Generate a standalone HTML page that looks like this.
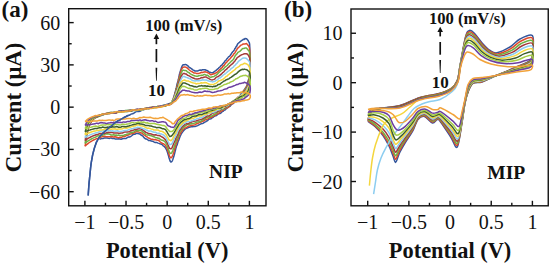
<!DOCTYPE html><html><head><meta charset="utf-8"><style>
html,body{margin:0;padding:0;background:#fff;width:550px;height:263px;overflow:hidden}
svg{display:block}
text{font-family:"Liberation Serif",serif;fill:#111}
.tk{font-size:20px}
.ti{font-size:22.4px;font-weight:bold}
.ti2{font-size:22.8px;font-weight:bold}
.tag{font-size:23px;font-weight:bold}
.lb{font-size:16.6px;font-weight:bold}
.lb2{font-size:19.5px;font-weight:bold}
</style></head><body>
<svg width="550" height="263" viewBox="0 0 550 263">
<rect width="550" height="263" fill="#fff"/>
<rect x="68.7" y="8.7" width="197.30" height="197.10" fill="none" stroke="#111" stroke-width="1.4"/>
<line x1="68.7" y1="191.69" x2="73.70" y2="191.69" stroke="#111" stroke-width="1.4"/>
<text x="60.20" y="198.69" text-anchor="end" class="tk">−60</text>
<line x1="68.7" y1="149.42" x2="73.70" y2="149.42" stroke="#111" stroke-width="1.4"/>
<text x="60.20" y="156.42" text-anchor="end" class="tk">−30</text>
<line x1="68.7" y1="107.15" x2="73.70" y2="107.15" stroke="#111" stroke-width="1.4"/>
<text x="60.20" y="114.15" text-anchor="end" class="tk">0</text>
<line x1="68.7" y1="64.88" x2="73.70" y2="64.88" stroke="#111" stroke-width="1.4"/>
<text x="60.20" y="71.88" text-anchor="end" class="tk">30</text>
<line x1="68.7" y1="22.61" x2="73.70" y2="22.61" stroke="#111" stroke-width="1.4"/>
<text x="60.20" y="29.61" text-anchor="end" class="tk">60</text>
<line x1="68.7" y1="170.56" x2="71.70" y2="170.56" stroke="#111" stroke-width="1.4"/>
<line x1="68.7" y1="128.28" x2="71.70" y2="128.28" stroke="#111" stroke-width="1.4"/>
<line x1="68.7" y1="86.02" x2="71.70" y2="86.02" stroke="#111" stroke-width="1.4"/>
<line x1="68.7" y1="43.75" x2="71.70" y2="43.75" stroke="#111" stroke-width="1.4"/>
<line x1="84.90" y1="205.8" x2="84.90" y2="200.80" stroke="#111" stroke-width="1.4"/>
<text x="84.90" y="229.3" text-anchor="middle" class="tk">−1</text>
<line x1="126.03" y1="205.8" x2="126.03" y2="200.80" stroke="#111" stroke-width="1.4"/>
<text x="126.03" y="229.3" text-anchor="middle" class="tk">−0.5</text>
<line x1="167.15" y1="205.8" x2="167.15" y2="200.80" stroke="#111" stroke-width="1.4"/>
<text x="167.15" y="229.3" text-anchor="middle" class="tk">0</text>
<line x1="208.28" y1="205.8" x2="208.28" y2="200.80" stroke="#111" stroke-width="1.4"/>
<text x="208.28" y="229.3" text-anchor="middle" class="tk">0.5</text>
<line x1="249.40" y1="205.8" x2="249.40" y2="200.80" stroke="#111" stroke-width="1.4"/>
<text x="249.40" y="229.3" text-anchor="middle" class="tk">1</text>
<line x1="105.46" y1="205.8" x2="105.46" y2="202.80" stroke="#111" stroke-width="1.4"/>
<line x1="146.59" y1="205.8" x2="146.59" y2="202.80" stroke="#111" stroke-width="1.4"/>
<line x1="187.71" y1="205.8" x2="187.71" y2="202.80" stroke="#111" stroke-width="1.4"/>
<line x1="228.84" y1="205.8" x2="228.84" y2="202.80" stroke="#111" stroke-width="1.4"/>
<text transform="translate(167.15,257.6) scale(1,1.07)" text-anchor="middle" class="ti">Potential (V)</text>
<text transform="translate(20.50,107.45) rotate(-90)" text-anchor="middle" class="ti2">Current (μA)</text>
<text x="1.5" y="17.3" class="tag">(a)</text>
<rect x="351.0" y="9.0" width="197.25" height="196.80" fill="none" stroke="#111" stroke-width="1.4"/>
<line x1="351.0" y1="181.51" x2="356.00" y2="181.51" stroke="#111" stroke-width="1.4"/>
<text x="342.50" y="188.51" text-anchor="end" class="tk">−20</text>
<line x1="351.0" y1="132.09" x2="356.00" y2="132.09" stroke="#111" stroke-width="1.4"/>
<text x="342.50" y="139.09" text-anchor="end" class="tk">−10</text>
<line x1="351.0" y1="82.67" x2="356.00" y2="82.67" stroke="#111" stroke-width="1.4"/>
<text x="342.50" y="89.67" text-anchor="end" class="tk">0</text>
<line x1="351.0" y1="33.25" x2="356.00" y2="33.25" stroke="#111" stroke-width="1.4"/>
<text x="342.50" y="40.25" text-anchor="end" class="tk">10</text>
<line x1="351.0" y1="156.80" x2="354.00" y2="156.80" stroke="#111" stroke-width="1.4"/>
<line x1="351.0" y1="107.38" x2="354.00" y2="107.38" stroke="#111" stroke-width="1.4"/>
<line x1="351.0" y1="57.96" x2="354.00" y2="57.96" stroke="#111" stroke-width="1.4"/>
<line x1="367.70" y1="205.8" x2="367.70" y2="200.80" stroke="#111" stroke-width="1.4"/>
<text x="367.70" y="229.3" text-anchor="middle" class="tk">−1</text>
<line x1="408.88" y1="205.8" x2="408.88" y2="200.80" stroke="#111" stroke-width="1.4"/>
<text x="408.88" y="229.3" text-anchor="middle" class="tk">−0.5</text>
<line x1="450.05" y1="205.8" x2="450.05" y2="200.80" stroke="#111" stroke-width="1.4"/>
<text x="450.05" y="229.3" text-anchor="middle" class="tk">0</text>
<line x1="491.23" y1="205.8" x2="491.23" y2="200.80" stroke="#111" stroke-width="1.4"/>
<text x="491.23" y="229.3" text-anchor="middle" class="tk">0.5</text>
<line x1="532.40" y1="205.8" x2="532.40" y2="200.80" stroke="#111" stroke-width="1.4"/>
<text x="532.40" y="229.3" text-anchor="middle" class="tk">1</text>
<line x1="388.29" y1="205.8" x2="388.29" y2="202.80" stroke="#111" stroke-width="1.4"/>
<line x1="429.46" y1="205.8" x2="429.46" y2="202.80" stroke="#111" stroke-width="1.4"/>
<line x1="470.64" y1="205.8" x2="470.64" y2="202.80" stroke="#111" stroke-width="1.4"/>
<line x1="511.81" y1="205.8" x2="511.81" y2="202.80" stroke="#111" stroke-width="1.4"/>
<text transform="translate(450.05,257.6) scale(1,1.07)" text-anchor="middle" class="ti">Potential (V)</text>
<text transform="translate(302.80,107.45) rotate(-90)" text-anchor="middle" class="ti2">Current (μA)</text>
<text x="284" y="17.3" class="tag">(b)</text>
<path d="M88.20,195.50 L88.3,194.7 L88.3,193.6 L88.4,192.3 L88.5,190.8 L88.6,189.3 L88.7,187.8 L88.8,186.3 L88.9,185.0 L89.0,183.7 L89.1,182.5 L89.2,181.3 L89.4,180.1 L89.5,178.9 L89.6,177.5 L89.8,176.0 L89.9,174.9 L90.0,173.8 L90.1,172.6 L90.2,171.4 L90.4,170.1 L90.5,168.8 L90.6,167.5 L90.8,166.2 L90.9,164.9 L91.1,163.7 L91.3,162.4 L91.5,161.1 L91.7,159.9 L92.0,158.6 L92.2,157.3 L92.4,156.0 L92.7,154.7 L93.0,153.4 L93.3,152.2 L93.6,151.0 L93.9,149.8 L94.2,148.7 L94.6,147.4 L95.0,146.0 L95.5,144.7 L95.9,143.2 L96.4,141.9 L96.9,141.1 L97.4,140.1 L97.9,139.3 L98.5,138.4 L99.3,136.8 L100.2,136.2 L101.1,135.0 L102.0,134.0 L102.9,133.0 L103.8,132.1 L104.7,131.8 L105.8,131.0 L106.9,129.5 L107.9,129.0 L109.0,128.3 L110.0,127.5 L111.0,126.2 L112.0,125.7 L113.0,124.8 L114.0,123.8 L115.0,122.6 L116.1,122.0 L117.2,121.1 L118.4,120.3 L120.0,119.9 L120.9,119.2 L121.9,119.0 L123.0,118.2 L124.1,117.3 L125.3,116.8 L126.5,116.0 L127.7,115.4 L128.9,115.2 L130.0,114.9 L131.2,114.0 L132.5,113.8 L133.8,113.2 L135.0,112.3 L136.2,111.6 L137.5,111.6 L138.8,111.6 L140.0,111.3 L141.2,110.7 L142.4,109.8 L143.5,109.8 L144.7,109.1 L145.9,109.2 L147.1,108.5 L148.5,108.8 L150.0,108.3 L151.1,107.8 L152.3,107.3 L153.6,107.1 L154.9,107.3 L156.3,106.9 L157.7,106.4 L159.1,106.7 L160.4,106.2 L161.7,105.8 L162.9,105.5 L164.0,105.2 L165.0,105.0 L166.7,104.4 L168.0,104.0 L169.1,103.6 L170.1,103.4 L171.0,103.1 L172.0,101.9 L172.4,100.9 L172.8,99.6 L173.2,99.1 L173.6,97.6 L174.0,96.5 L174.3,95.3 L174.7,93.9 L175.0,92.4 L175.4,91.6 L175.7,89.8 L176.0,88.5 L176.4,87.5 L176.7,86.0 L177.0,84.5 L177.3,83.1 L177.7,82.3 L178.0,81.0 L178.3,79.5 L178.6,78.5 L178.9,77.2 L179.2,75.4 L179.5,74.0 L179.8,73.2 L180.1,71.9 L180.4,70.9 L180.7,69.8 L181.0,69.3 L181.7,67.1 L182.3,65.8 L183.1,64.7 L184.5,64.7 L185.3,64.4 L186.2,64.7 L187.2,65.3 L188.2,66.1 L189.3,67.5 L190.5,68.0 L191.7,68.9 L192.8,69.9 L193.9,70.3 L195.0,71.0 L196.3,71.1 L197.6,71.1 L198.8,70.4 L200.1,70.0 L201.3,70.2 L202.6,69.7 L203.8,69.8 L205.0,69.7 L206.3,70.3 L207.4,70.7 L208.6,71.7 L209.7,72.3 L210.9,72.6 L212.4,72.8 L214.0,72.0 L214.7,71.2 L215.5,70.9 L216.4,70.2 L217.2,69.3 L218.2,68.6 L219.1,67.5 L220.1,66.8 L221.1,65.6 L222.1,64.8 L223.1,63.5 L224.0,62.6 L225.0,60.9 L225.9,60.4 L226.8,58.9 L227.7,57.9 L228.5,56.9 L229.3,56.4 L230.0,55.7 L231.0,54.3 L232.0,52.7 L232.8,51.7 L233.5,51.0 L234.2,50.1 L234.9,48.6 L235.5,48.0 L236.1,46.6 L236.7,46.1 L237.3,44.6 L238.0,43.5 L239.1,42.7 L240.2,41.6 L241.2,40.9 L242.3,40.2 L243.3,39.3 L244.2,39.4 L245.0,38.6 L246.6,38.8 L247.9,40.2 L248.8,41.9 L249.2,42.5 L249.4,43.1 L249.6,43.9 L249.7,45.9 L249.8,47.9 L249.8,48.6 L249.9,50.1 L249.9,51.3 L250.0,52.7 L250.0,53.7 L250.0,54.8 L250.1,56.1 L250.1,57.5 L250.1,58.9 L250.1,60.3 L250.1,61.7 L250.1,63.1 L250.1,64.4 L250.1,65.7 L250.0,66.9 L250.0,68.0 L249.9,70.1 L249.8,71.6 L249.7,72.4 L249.6,73.3 L249.4,74.6 L249.2,76.3 L249.0,77.9 L248.8,78.6 L248.6,79.6 L248.3,80.4 L248.0,81.6 L247.6,82.8 L247.2,84.3 L246.8,85.6 L246.3,87.0 L245.8,87.5 L245.2,88.4 L244.6,89.3 L243.8,90.7 L243.0,91.9 L242.4,93.0 L241.6,93.4 L240.9,94.3 L240.1,95.6 L239.2,96.9 L238.3,98.1 L237.4,98.7 L236.5,99.9 L235.6,100.6 L234.7,101.9 L233.8,103.1 L232.9,103.6 L232.0,104.0 L231.0,105.0 L230.0,106.4 L229.0,106.7 L228.0,107.3 L227.0,108.2 L226.0,108.9 L225.0,110.1 L224.0,110.2 L223.0,111.4 L222.0,111.8 L221.0,112.9 L219.9,113.6 L218.8,113.8 L217.7,114.2 L216.6,115.5 L215.4,115.8 L214.3,116.3 L213.2,117.3 L212.1,117.7 L211.1,118.8 L210.0,118.9 L208.9,119.2 L207.7,120.5 L206.7,121.0 L205.6,121.9 L204.5,122.2 L203.4,123.1 L202.3,123.6 L201.2,123.7 L200.0,124.3 L198.9,124.9 L197.6,125.6 L196.4,126.1 L195.1,126.4 L193.8,126.5 L192.5,126.7 L191.2,126.8 L190.0,127.0 L189.0,127.4 L188.0,127.7 L186.6,128.2 L185.5,129.0 L184.6,129.6 L183.7,130.5 L182.9,131.6 L182.0,132.7 L181.5,133.5 L180.9,134.8 L180.4,135.6 L180.0,136.7 L179.5,137.9 L179.0,139.4 L178.5,140.7 L178.0,141.8 L177.5,143.5 L177.0,145.2 L176.6,145.8 L176.2,147.2 L175.8,148.5 L175.4,150.4 L175.0,151.9 L174.6,153.5 L174.2,155.1 L173.8,156.6 L173.3,157.9 L172.9,159.2 L172.5,160.3 L172.1,161.1 L171.7,161.7 L171.3,162.0 L170.8,161.9 L170.3,161.4 L169.9,160.4 L169.5,159.2 L169.0,157.7 L168.6,156.1 L168.1,154.5 L167.6,152.9 L167.1,151.3 L166.6,150.0 L166.0,148.8 L165.1,147.4 L164.2,146.5 L163.2,145.8 L162.2,144.7 L161.1,144.1 L160.1,143.9 L159.0,143.4 L158.0,143.1 L156.6,142.4 L155.2,142.5 L153.8,141.9 L152.4,141.2 L151.2,140.9 L150.0,140.6 L148.5,140.5 L147.2,139.3 L146.1,139.1 L145.0,138.5 L144.0,137.6 L143.0,136.2 L142.0,135.6 L141.0,135.0 L140.0,134.1 L138.9,133.7 L137.7,133.6 L136.0,133.5 L135.1,134.3 L134.2,134.2 L133.1,134.4 L132.0,135.5 L130.8,136.3 L129.6,137.0 L128.4,137.0 L127.2,137.6 L126.1,138.5 L125.0,138.5 L123.7,138.6 L122.4,138.7 L121.1,139.3 L119.9,139.0 L118.6,138.8 L117.4,138.9 L116.2,139.0 L115.0,138.9 L113.6,138.4 L112.3,138.5 L110.9,137.9 L109.6,138.4 L108.4,138.3 L107.1,138.0 L106.0,138.0 L104.4,138.0 L102.9,138.5 L101.5,138.6 L100.3,139.0 L99.5,138.7" fill="none" stroke="#34569C" stroke-width="1.5" stroke-linejoin="round"/>
<path d="M85.00,146.23 L85.1,145.5 L85.3,144.7 L85.5,143.7 L85.7,142.6 L85.9,141.4 L86.1,140.1 L86.4,138.7 L86.6,137.3 L86.9,135.8 L87.2,134.3 L87.5,132.9 L87.8,131.4 L88.1,130.0 L88.5,128.7 L88.8,127.4 L89.2,126.3 L89.6,125.2 L90.0,124.3 L90.7,123.0 L91.4,121.8 L92.1,120.8 L92.8,119.9 L93.6,119.1 L94.5,118.4 L95.4,117.7 L96.4,117.2 L97.5,117.0 L98.7,116.0 L100.0,115.1 L101.0,114.9 L102.0,115.0 L103.2,114.7 L104.4,113.9 L105.6,113.6 L106.9,113.1 L108.3,113.1 L109.6,113.3 L111.0,113.0 L112.4,112.8 L113.7,112.4 L115.0,112.3 L116.4,112.7 L117.6,112.2 L118.8,111.8 L120.0,111.9 L121.4,112.0 L122.7,111.2 L124.0,111.3 L125.3,111.2 L126.5,111.1 L127.8,110.9 L129.0,110.9 L130.2,111.0 L131.4,110.5 L132.5,110.1 L133.7,109.8 L134.8,110.0 L136.0,109.7 L137.3,109.6 L138.7,109.6 L139.9,109.3 L141.2,109.3 L142.4,109.1 L143.7,108.9 L144.9,108.9 L146.2,108.5 L147.4,107.8 L148.7,108.2 L150.0,107.8 L151.2,107.5 L152.5,107.1 L153.9,107.2 L155.2,107.3 L156.6,106.7 L157.9,106.7 L159.3,106.1 L160.6,106.1 L161.8,105.8 L163.0,106.0 L164.0,106.1 L165.0,105.7 L166.7,105.1 L168.0,105.0 L169.1,104.8 L170.1,103.7 L171.0,102.9 L172.0,101.8 L172.5,101.3 L172.9,99.9 L173.3,99.3 L173.7,97.7 L174.1,96.7 L174.5,95.7 L174.9,94.6 L175.2,92.9 L175.6,91.7 L176.0,90.2 L176.3,88.6 L176.7,87.9 L177.0,86.2 L177.4,85.5 L177.7,83.6 L178.1,82.6 L178.4,81.0 L178.7,79.5 L179.1,77.8 L179.4,76.8 L179.7,75.9 L180.0,75.0 L180.3,73.4 L180.6,72.3 L180.9,71.1 L181.7,69.0 L182.3,68.1 L183.1,67.2 L184.5,67.0 L185.4,67.1 L186.4,67.5 L187.5,68.2 L188.7,69.5 L190.0,70.5 L191.3,71.4 L192.6,72.0 L193.8,72.9 L195.0,72.9 L196.3,73.4 L197.6,73.4 L198.8,73.4 L200.1,73.0 L201.3,72.3 L202.6,72.4 L203.8,72.1 L205.0,71.7 L206.3,72.1 L207.4,72.5 L208.6,73.1 L209.7,73.9 L210.9,74.8 L212.4,74.3 L214.0,73.8 L214.7,73.7 L215.5,73.0 L216.4,72.8 L217.2,72.2 L218.2,71.3 L219.1,70.3 L220.1,69.3 L221.1,68.4 L222.1,67.7 L223.1,66.0 L224.0,65.5 L225.0,64.1 L225.9,62.8 L226.8,62.1 L227.7,61.0 L228.5,60.2 L229.3,59.2 L230.0,58.8 L231.0,57.6 L232.0,56.3 L232.8,55.7 L233.5,54.2 L234.2,53.7 L234.9,53.0 L235.5,51.5 L236.1,50.9 L236.7,49.9 L237.3,48.7 L238.0,47.9 L239.1,47.0 L240.1,45.9 L241.2,45.0 L242.2,44.6 L243.2,44.0 L244.1,44.1 L244.9,44.0 L246.5,43.6 L247.8,45.0 L248.7,46.0 L249.1,47.0 L249.4,47.6 L249.6,49.0 L249.7,50.2 L249.8,52.5 L249.9,53.6 L249.9,54.0 L250.0,55.5 L250.0,56.4 L250.0,57.6 L250.1,59.0 L250.1,60.3 L250.1,61.7 L250.1,63.1 L250.1,64.5 L250.1,65.9 L250.1,67.2 L250.1,68.5 L250.0,69.7 L250.0,70.8 L249.9,72.2 L249.7,73.5 L249.6,75.2 L249.4,76.7 L249.3,77.9 L249.1,79.0 L248.9,79.7 L248.6,80.4 L248.3,81.9 L248.0,82.9 L247.7,83.9 L247.2,85.4 L246.7,86.3 L246.1,87.4 L245.5,88.6 L244.8,89.8 L244.0,90.4 L243.2,91.2 L242.2,93.2 L241.5,94.2 L240.8,95.2 L240.0,96.2 L239.2,97.0 L238.3,97.3 L237.4,98.3 L236.5,99.3 L235.6,100.4 L234.6,101.4 L233.7,102.3 L232.8,103.5 L231.9,103.8 L231.0,104.3 L230.0,105.2 L229.0,106.3 L228.0,107.5 L226.9,107.9 L225.9,108.3 L224.9,108.7 L223.9,109.3 L222.9,110.3 L221.9,110.8 L220.9,111.4 L219.9,112.0 L218.8,113.1 L217.7,113.9 L216.6,113.9 L215.5,115.0 L214.4,115.7 L213.3,116.0 L212.2,116.9 L211.1,117.6 L210.1,117.4 L209.0,118.1 L207.8,119.0 L206.7,119.2 L205.6,119.6 L204.5,120.3 L203.4,121.1 L202.3,121.3 L201.1,122.0 L200.0,122.4 L198.8,122.9 L197.7,123.5 L196.5,123.8 L195.2,124.6 L194.0,125.0 L192.7,125.2 L191.5,125.3 L190.3,125.8 L189.2,125.9 L188.1,126.4 L187.2,127.0 L185.9,127.8 L184.8,127.9 L183.9,128.9 L183.0,129.2 L182.2,130.8 L181.4,131.6 L180.9,132.4 L180.4,133.3 L179.9,134.5 L179.5,135.4 L179.0,136.3 L178.5,137.8 L178.1,138.8 L177.6,139.8 L177.1,141.4 L176.6,143.1 L176.2,143.8 L175.8,145.0 L175.4,146.8 L175.0,147.9 L174.5,149.3 L174.1,151.1 L173.7,152.5 L173.2,153.9 L172.8,155.1 L172.3,156.1 L171.9,157.0 L171.5,157.5 L171.1,157.8 L170.5,157.7 L170.0,157.0 L169.5,156.0 L169.1,154.6 L168.6,153.1 L168.1,151.4 L167.6,150.1 L167.0,148.2 L166.4,147.1 L165.8,145.9 L164.8,144.7 L163.8,144.0 L162.6,143.5 L161.5,142.8 L160.3,142.0 L159.1,140.8 L158.0,140.3 L156.6,140.0 L155.2,139.5 L153.8,139.7 L152.5,139.2 L151.2,139.3 L150.0,138.5 L148.5,138.0 L147.2,137.0 L146.1,136.4 L145.0,135.4 L144.0,134.9 L143.0,134.2 L142.0,133.0 L141.0,133.0 L140.0,132.4 L138.9,132.1 L137.7,131.7 L136.0,131.8 L135.0,132.3 L133.9,133.2 L132.7,133.2 L131.5,133.7 L130.1,134.1 L128.8,134.8 L127.5,135.3 L126.2,135.6 L125.0,136.5 L123.7,136.4 L122.4,136.8 L121.1,137.5 L119.9,137.3 L118.6,137.7 L117.4,137.5 L116.2,137.0 L115.0,136.8 L113.7,137.1 L112.4,136.7 L111.2,136.4 L109.9,136.7 L108.7,136.7 L107.4,136.7 L106.0,136.8 L104.8,136.3 L103.6,136.4 L102.3,136.6 L101.0,137.1 L99.7,137.8 L98.4,138.4 L97.2,138.4 L96.0,138.9 L95.0,139.4 L93.6,140.0 L92.4,140.7 L91.3,141.3 L90.3,141.9 L89.4,142.5 L88.5,143.1 L87.0,144.3 L85.8,145.4 L85.0,146.2" fill="none" stroke="#DE4A2C" stroke-width="1.5" stroke-linejoin="round"/>
<path d="M85.00,143.43 L85.2,142.8 L85.3,141.9 L85.5,141.0 L85.7,139.9 L86.0,138.7 L86.2,137.4 L86.5,136.1 L86.7,134.7 L87.0,133.3 L87.3,131.9 L87.7,130.5 L88.0,129.1 L88.4,127.8 L88.8,126.6 L89.2,125.5 L89.6,124.4 L90.0,123.5 L90.8,122.2 L91.5,121.1 L92.3,120.1 L93.2,119.2 L94.1,118.4 L95.0,118.0 L96.1,117.6 L97.3,117.1 L98.6,116.6 L100.0,115.8 L101.0,115.4 L102.0,115.2 L103.2,114.7 L104.4,113.9 L105.6,113.8 L106.9,113.6 L108.3,113.1 L109.6,112.6 L111.0,112.4 L112.4,112.7 L113.7,112.8 L115.0,112.7 L116.4,112.3 L117.6,111.7 L118.8,111.3 L120.0,111.6 L121.4,111.5 L122.7,111.3 L124.0,110.9 L125.3,110.6 L126.5,110.4 L127.8,110.2 L129.0,110.5 L130.2,110.3 L131.4,110.4 L132.5,110.3 L133.7,110.3 L134.8,110.4 L136.0,110.4 L137.3,109.7 L138.7,110.0 L139.9,109.9 L141.2,109.8 L142.4,109.3 L143.7,109.4 L144.9,109.2 L146.2,108.5 L147.4,108.4 L148.7,108.5 L150.0,108.3 L151.2,108.2 L152.5,107.8 L153.9,107.6 L155.2,106.9 L156.6,107.0 L157.9,106.5 L159.3,106.7 L160.6,106.8 L161.8,106.3 L163.0,105.7 L164.0,105.2 L165.0,105.3 L166.7,104.7 L168.0,104.8 L169.1,104.6 L170.1,104.0 L171.0,103.3 L172.0,101.7 L172.5,101.0 L173.0,99.7 L173.4,98.9 L173.9,98.2 L174.3,96.6 L174.7,95.6 L175.1,94.7 L175.5,93.0 L175.9,91.4 L176.3,90.0 L176.6,89.3 L177.0,87.6 L177.4,86.7 L177.8,85.1 L178.2,84.1 L178.5,83.0 L178.9,81.7 L179.2,79.8 L179.5,78.6 L179.9,77.2 L180.2,76.5 L180.6,75.2 L180.9,74.0 L181.7,72.3 L182.3,70.8 L183.1,70.1 L184.5,70.5 L185.4,70.6 L186.4,70.8 L187.5,72.0 L188.7,72.4 L190.0,73.6 L191.3,74.4 L192.6,75.0 L193.8,75.6 L195.0,75.9 L196.3,76.3 L197.6,76.2 L198.8,75.7 L200.1,75.6 L201.3,75.2 L202.6,75.3 L203.8,74.6 L205.0,74.6 L206.3,75.3 L207.4,75.2 L208.6,76.1 L209.7,77.0 L210.9,77.2 L212.4,76.7 L214.0,76.5 L214.8,75.8 L215.6,75.4 L216.5,75.0 L217.5,74.0 L218.4,73.0 L219.5,72.0 L220.5,71.2 L221.5,70.1 L222.6,69.6 L223.6,68.9 L224.7,67.4 L225.7,66.6 L226.6,66.0 L227.6,65.2 L228.4,64.0 L229.3,63.2 L230.0,62.6 L231.1,61.4 L232.1,60.7 L233.0,59.7 L233.8,58.7 L234.6,57.0 L235.3,55.6 L235.9,54.9 L236.6,54.2 L237.3,53.2 L238.0,52.3 L239.2,51.6 L240.5,50.8 L241.7,49.4 L242.8,48.5 L243.9,48.5 L244.8,48.1 L246.4,48.1 L247.7,49.6 L248.7,50.7 L249.2,51.3 L249.5,52.4 L249.7,53.9 L249.9,56.5 L249.9,57.6 L250.0,58.1 L250.0,59.5 L250.1,60.7 L250.1,62.0 L250.1,63.3 L250.1,64.7 L250.1,66.0 L250.1,67.4 L250.1,68.8 L250.1,70.1 L250.0,71.4 L250.0,72.4 L249.9,73.6 L249.8,75.1 L249.6,76.7 L249.5,77.9 L249.3,79.5 L249.0,80.7 L248.8,81.8 L248.5,82.5 L248.2,83.8 L247.8,84.8 L247.4,86.0 L246.8,86.9 L246.3,88.3 L245.6,89.3 L244.9,89.9 L244.2,91.3 L243.3,92.1 L242.4,93.0 L241.4,93.9 L240.7,94.7 L239.9,95.8 L239.1,96.9 L238.3,97.5 L237.4,98.3 L236.5,99.1 L235.5,99.7 L234.6,101.0 L233.6,101.7 L232.7,102.1 L231.8,102.9 L230.9,103.7 L230.0,104.9 L228.8,105.4 L227.7,106.0 L226.6,107.3 L225.5,107.8 L224.3,108.9 L223.2,108.9 L222.1,109.3 L221.0,109.9 L219.9,110.6 L218.8,111.4 L217.7,112.0 L216.6,113.1 L215.5,113.9 L214.4,114.3 L213.3,115.1 L212.2,115.7 L211.2,116.3 L210.1,116.6 L209.0,116.5 L208.0,117.2 L206.8,117.4 L205.7,118.1 L204.5,119.2 L203.4,119.5 L202.2,120.2 L201.1,121.1 L199.9,121.6 L198.8,121.7 L197.6,122.1 L196.3,122.2 L195.0,123.0 L193.7,123.4 L192.3,123.4 L191.0,123.7 L189.7,124.4 L188.5,124.2 L187.4,124.4 L186.4,125.2 L185.1,126.2 L184.1,126.9 L183.2,127.7 L182.4,128.0 L181.6,129.3 L180.8,130.6 L180.2,131.1 L179.7,132.3 L179.2,133.2 L178.7,134.3 L178.3,135.9 L177.8,137.3 L177.3,138.0 L176.8,139.0 L176.3,140.6 L175.8,142.2 L175.3,143.5 L174.8,144.7 L174.3,146.4 L173.8,148.2 L173.3,149.1 L172.8,150.6 L172.3,151.7 L171.8,152.7 L171.3,153.3 L170.8,153.6 L170.3,153.4 L169.8,152.8 L169.3,151.9 L168.8,150.6 L168.4,148.8 L167.9,147.6 L167.3,146.1 L166.8,144.6 L166.2,143.7 L165.6,142.5 L164.6,141.5 L163.6,140.7 L162.5,140.2 L161.4,140.0 L160.3,139.4 L159.1,138.3 L158.0,138.2 L156.7,137.7 L155.3,137.4 L153.8,136.7 L152.5,136.2 L151.2,135.8 L150.0,135.5 L148.5,135.0 L147.2,134.9 L146.1,134.6 L145.0,133.8 L144.0,132.8 L143.0,132.1 L142.0,131.2 L141.0,130.6 L140.0,130.4 L138.9,130.7 L137.7,130.7 L136.0,130.5 L135.0,131.1 L133.9,131.8 L132.7,132.4 L131.5,132.3 L130.1,132.9 L128.8,133.8 L127.5,133.9 L126.2,134.4 L125.0,134.8 L123.7,135.4 L122.4,135.6 L121.1,135.4 L119.9,135.4 L118.6,135.0 L117.4,135.4 L116.2,135.1 L115.0,135.2 L113.7,134.8 L112.4,135.0 L111.2,135.0 L109.9,134.3 L108.7,134.1 L107.4,133.8 L106.0,134.1 L104.8,134.1 L103.6,134.9 L102.3,135.4 L101.0,135.2 L99.7,135.4 L98.4,135.8 L97.2,136.1 L96.0,136.8 L95.0,137.4 L93.6,137.9 L92.4,138.4 L91.3,139.0 L90.3,139.6 L89.4,140.1 L88.5,140.6 L87.0,141.7 L85.8,142.7 L85.0,143.4" fill="none" stroke="#6FB044" stroke-width="1.5" stroke-linejoin="round"/>
<path d="M85.00,140.59 L85.2,139.9 L85.4,139.0 L85.6,138.0 L85.8,136.9 L86.1,135.6 L86.4,134.3 L86.7,132.9 L87.0,131.5 L87.4,130.0 L87.8,128.6 L88.2,127.3 L88.6,126.0 L89.0,124.8 L89.5,123.7 L90.0,122.8 L90.8,121.6 L91.5,120.6 L92.3,119.7 L93.2,118.9 L94.1,118.2 L95.0,117.6 L96.1,117.3 L97.3,116.3 L98.6,115.6 L100.0,115.4 L101.0,115.4 L102.0,114.5 L103.2,113.9 L104.4,114.1 L105.6,113.7 L106.9,113.4 L108.3,113.6 L109.6,113.5 L111.0,113.3 L112.4,113.3 L113.7,113.0 L115.0,112.9 L116.4,112.6 L117.6,112.3 L118.8,111.6 L120.0,112.0 L121.4,112.0 L122.7,111.5 L124.0,111.4 L125.3,110.7 L126.5,110.8 L127.8,110.9 L129.0,110.6 L130.2,110.5 L131.4,110.7 L132.5,110.2 L133.7,110.1 L134.8,109.7 L136.0,109.7 L137.3,110.0 L138.7,109.8 L139.9,109.1 L141.2,109.4 L142.4,109.3 L143.7,109.0 L144.9,108.5 L146.2,108.2 L147.4,107.9 L148.7,108.0 L150.0,107.4 L151.2,107.9 L152.5,107.2 L153.9,107.3 L155.2,107.2 L156.6,106.9 L157.9,106.6 L159.3,106.5 L160.6,106.2 L161.8,106.6 L163.0,106.3 L164.0,106.0 L165.0,105.8 L166.7,105.3 L168.0,104.6 L169.1,103.9 L170.1,104.1 L171.0,103.6 L172.0,101.9 L172.5,101.3 L173.0,100.6 L173.5,99.8 L174.0,98.0 L174.5,96.5 L174.9,95.4 L175.4,94.3 L175.8,92.7 L176.2,91.8 L176.6,90.8 L177.0,89.5 L177.4,88.5 L177.8,86.9 L178.2,85.8 L178.6,84.1 L179.0,82.6 L179.4,81.2 L179.7,80.3 L180.1,79.4 L180.5,77.8 L180.8,77.1 L181.6,75.7 L182.3,74.6 L183.1,73.6 L184.5,73.4 L185.4,74.1 L186.4,74.1 L187.5,75.2 L188.7,75.6 L190.0,76.3 L191.3,77.1 L192.6,77.8 L193.8,78.3 L195.0,78.8 L196.3,78.9 L197.6,79.0 L198.8,78.7 L200.1,78.4 L201.3,77.6 L202.6,77.8 L203.8,77.3 L205.0,77.0 L206.3,77.0 L207.4,77.8 L208.6,78.4 L209.7,79.1 L210.9,79.7 L212.4,79.9 L214.0,79.4 L214.8,79.0 L215.6,78.1 L216.5,77.1 L217.5,76.8 L218.4,76.5 L219.5,75.5 L220.5,74.9 L221.5,73.9 L222.6,72.7 L223.6,72.1 L224.7,70.7 L225.7,69.8 L226.6,69.2 L227.6,68.0 L228.4,67.4 L229.3,66.6 L230.0,65.8 L231.2,64.7 L232.3,63.9 L233.3,62.9 L234.2,61.8 L235.0,60.9 L235.7,59.7 L236.5,58.9 L237.2,57.6 L238.0,57.2 L239.2,56.3 L240.4,55.4 L241.6,54.8 L242.8,54.4 L243.8,53.9 L244.7,53.8 L246.3,53.8 L247.6,54.2 L248.6,55.8 L249.1,56.7 L249.5,57.6 L249.8,58.5 L249.9,60.8 L250.0,61.6 L250.0,62.8 L250.1,63.9 L250.1,65.1 L250.1,66.4 L250.2,67.7 L250.2,69.1 L250.2,70.4 L250.1,71.8 L250.1,73.1 L250.0,74.3 L250.0,75.3 L249.9,76.6 L249.7,78.1 L249.5,79.2 L249.3,81.0 L249.0,82.4 L248.7,83.8 L248.4,84.3 L248.0,85.5 L247.6,86.4 L247.1,87.2 L246.5,88.9 L245.8,89.9 L245.1,90.7 L244.4,91.8 L243.5,92.8 L242.6,93.4 L241.6,93.9 L240.6,95.4 L239.8,96.0 L238.9,96.7 L238.0,97.2 L237.0,98.3 L236.1,99.5 L235.0,100.7 L234.0,101.0 L233.0,101.5 L231.9,103.0 L230.9,103.7 L229.9,104.5 L228.9,105.2 L227.8,105.8 L226.7,106.4 L225.5,107.4 L224.4,108.0 L223.2,108.0 L222.1,108.3 L221.0,109.5 L219.9,110.1 L218.7,110.8 L217.6,111.3 L216.4,112.0 L215.2,112.3 L214.0,112.8 L212.8,113.3 L211.7,113.8 L210.5,114.9 L209.3,115.6 L208.1,116.0 L206.9,116.0 L205.8,117.0 L204.6,117.7 L203.4,118.2 L202.2,119.0 L201.1,119.4 L199.9,119.8 L198.7,119.9 L197.5,120.5 L196.3,120.8 L195.1,120.9 L193.8,121.2 L192.6,121.4 L191.3,122.2 L190.0,122.4 L188.8,123.3 L187.6,123.9 L186.5,123.8 L185.6,123.8 L184.3,125.0 L183.3,126.0 L182.5,126.4 L181.7,127.5 L180.9,128.7 L180.2,129.5 L179.6,130.3 L179.0,131.5 L178.5,132.8 L178.0,134.0 L177.5,135.4 L177.0,136.1 L176.4,137.0 L175.9,138.1 L175.3,140.0 L174.8,141.1 L174.2,142.4 L173.6,143.8 L173.0,145.2 L172.4,146.9 L171.8,148.2 L171.2,148.8 L170.6,148.8 L170.0,148.4 L169.5,148.2 L168.9,146.8 L168.4,145.5 L167.8,144.2 L167.3,142.8 L166.7,141.8 L166.1,140.8 L165.4,139.6 L164.3,138.6 L163.1,137.5 L161.9,137.0 L160.6,136.1 L159.3,135.5 L158.0,135.6 L156.7,135.1 L155.3,134.8 L153.9,134.9 L152.5,134.6 L151.2,133.9 L150.0,133.7 L148.5,133.6 L147.2,132.8 L146.1,132.6 L145.0,131.6 L143.6,130.7 L142.4,129.6 L141.0,129.0 L140.0,128.6 L138.9,128.7 L137.7,129.0 L136.0,129.5 L135.0,129.2 L133.9,130.0 L132.7,130.4 L131.5,130.5 L130.1,131.2 L128.8,131.7 L127.5,131.9 L126.2,132.1 L125.0,132.1 L123.7,132.3 L122.4,133.1 L121.1,133.0 L119.9,133.3 L118.6,133.2 L117.4,133.0 L116.2,133.0 L115.0,132.9 L113.7,132.9 L112.4,132.6 L111.2,132.3 L109.9,132.6 L108.7,132.3 L107.4,132.5 L106.0,132.9 L104.8,133.2 L103.6,133.5 L102.3,133.5 L101.0,133.6 L99.7,133.5 L98.4,134.2 L97.2,134.5 L96.0,134.8 L95.0,135.2 L93.4,135.8 L91.9,136.4 L90.7,137.0 L89.5,137.6 L88.5,138.2 L87.0,139.1 L85.8,140.0 L85.0,140.6" fill="none" stroke="#A33A3A" stroke-width="1.5" stroke-linejoin="round"/>
<path d="M85.00,137.70 L85.2,137.0 L85.4,136.1 L85.7,135.0 L86.0,133.7 L86.3,132.4 L86.7,131.0 L87.1,129.6 L87.5,128.1 L87.9,126.7 L88.4,125.4 L88.9,124.1 L89.4,123.0 L90.0,122.0 L90.8,121.0 L91.5,120.1 L92.3,119.2 L93.2,118.5 L94.1,117.9 L95.0,117.0 L96.1,116.6 L97.3,115.7 L98.6,115.4 L100.0,115.1 L101.0,115.0 L102.0,115.1 L103.2,114.7 L104.4,113.8 L105.6,113.7 L106.9,113.3 L108.3,113.4 L109.6,113.5 L111.0,112.8 L112.4,112.9 L113.7,112.5 L115.0,112.0 L116.4,112.0 L117.6,111.9 L118.8,111.6 L120.0,111.4 L121.4,111.3 L122.7,111.4 L124.0,110.9 L125.3,110.8 L126.5,110.6 L127.8,110.9 L129.0,110.5 L130.2,110.7 L131.4,110.1 L132.5,110.5 L133.7,110.3 L134.8,110.5 L136.0,110.5 L137.3,110.4 L138.7,109.5 L139.9,109.6 L141.2,109.4 L142.4,109.5 L143.7,109.1 L144.9,108.7 L146.2,108.8 L147.4,108.9 L148.7,108.1 L150.0,107.6 L151.2,107.5 L152.5,107.6 L153.9,107.1 L155.2,107.1 L156.6,107.0 L157.9,107.1 L159.3,106.5 L160.6,106.0 L161.8,106.1 L163.0,106.2 L164.0,106.0 L165.0,105.9 L166.7,105.2 L168.0,104.4 L169.1,104.5 L170.1,104.2 L171.0,103.0 L172.0,101.8 L172.6,101.4 L173.1,100.7 L173.7,99.3 L174.2,98.0 L174.7,96.9 L175.2,95.3 L175.7,94.1 L176.1,92.9 L176.6,91.5 L177.0,90.7 L177.5,89.9 L177.9,88.1 L178.4,87.0 L178.8,85.7 L179.2,84.1 L179.6,83.0 L180.0,82.1 L180.4,80.7 L180.8,79.8 L181.6,78.4 L182.2,77.3 L183.1,76.5 L184.5,76.5 L185.4,77.0 L186.4,77.4 L187.5,77.7 L188.7,78.2 L190.0,78.7 L191.3,79.7 L192.6,80.6 L193.8,80.7 L195.0,81.1 L196.3,80.8 L197.6,80.7 L198.8,80.8 L200.1,80.6 L201.3,80.3 L202.6,79.8 L203.8,79.9 L205.0,79.9 L206.3,79.9 L207.4,80.6 L208.6,80.9 L209.7,81.3 L210.9,81.4 L212.4,81.9 L214.0,81.5 L214.8,81.4 L215.7,80.6 L216.7,80.2 L217.7,79.6 L218.8,78.3 L219.8,78.1 L220.9,77.2 L222.1,76.1 L223.2,75.2 L224.3,74.2 L225.4,73.7 L226.4,72.8 L227.4,71.9 L228.3,71.1 L229.2,70.6 L230.0,70.0 L231.2,68.6 L232.3,67.8 L233.3,67.2 L234.2,65.9 L235.0,65.3 L235.7,64.6 L236.5,63.5 L237.2,63.1 L238.0,61.9 L239.2,60.7 L240.4,59.9 L241.6,59.0 L242.7,58.2 L243.7,58.0 L244.6,58.0 L246.2,58.3 L247.5,59.5 L248.5,60.5 L249.1,61.3 L249.5,61.8 L249.8,62.8 L250.0,65.2 L250.0,66.4 L250.1,67.6 L250.1,68.8 L250.2,70.1 L250.2,71.5 L250.2,73.0 L250.2,74.4 L250.1,75.8 L250.0,77.2 L249.9,78.7 L249.8,79.9 L249.6,81.6 L249.3,82.9 L249.1,84.2 L248.7,85.6 L248.3,86.5 L247.9,87.2 L247.4,88.1 L246.8,89.3 L246.1,90.7 L245.4,91.8 L244.6,92.3 L243.8,92.8 L242.9,93.3 L241.9,94.1 L240.9,95.4 L239.7,95.9 L238.9,96.8 L238.0,98.0 L237.1,98.6 L236.1,99.5 L235.1,99.7 L234.1,100.6 L233.0,101.6 L232.0,102.0 L230.9,102.7 L229.9,103.6 L228.9,104.7 L227.9,105.3 L226.7,106.0 L225.6,106.6 L224.4,106.9 L223.3,108.0 L222.1,108.5 L221.0,108.5 L219.8,109.5 L218.7,110.1 L217.6,110.0 L216.5,110.8 L215.3,111.7 L214.1,111.9 L212.9,112.5 L211.7,112.5 L210.6,113.0 L209.4,113.4 L208.2,113.8 L207.1,114.4 L205.9,114.8 L204.7,115.7 L203.5,116.4 L202.3,117.3 L201.1,118.0 L199.9,117.7 L198.7,118.5 L197.4,118.6 L196.3,119.0 L195.1,119.9 L193.9,119.8 L192.6,120.7 L191.4,120.7 L190.2,121.5 L188.9,121.4 L187.8,121.8 L186.7,121.7 L185.6,122.6 L184.7,123.3 L183.5,123.6 L182.6,124.6 L181.7,125.6 L181.0,126.5 L180.3,126.9 L179.5,128.4 L178.9,129.1 L178.3,129.9 L177.8,130.8 L177.2,132.7 L176.7,133.8 L176.1,134.8 L175.5,136.5 L174.9,137.3 L174.3,138.5 L173.6,140.2 L173.0,141.4 L172.3,143.2 L171.7,143.7 L171.0,144.6 L170.4,144.4 L169.7,144.4 L169.1,144.0 L168.5,142.3 L167.9,141.4 L167.3,140.1 L166.6,138.8 L165.9,137.2 L165.2,136.5 L164.1,135.2 L163.0,134.8 L161.8,134.1 L160.5,134.1 L159.3,133.2 L158.0,133.3 L156.7,133.0 L155.3,132.2 L153.9,132.2 L152.5,131.7 L151.2,131.1 L150.0,131.1 L148.5,131.2 L147.2,130.2 L146.1,130.0 L145.0,129.1 L143.6,129.0 L142.4,128.3 L141.0,128.1 L140.0,127.4 L138.9,127.5 L137.7,127.3 L136.0,127.8 L135.0,128.0 L133.9,128.1 L132.7,128.8 L131.5,128.7 L130.1,129.1 L128.8,129.6 L127.5,130.2 L126.2,130.6 L125.0,130.5 L123.7,130.7 L122.4,131.1 L121.1,131.5 L119.9,131.4 L118.6,131.3 L117.4,130.8 L116.2,130.9 L115.0,131.3 L113.7,131.2 L112.4,130.7 L111.2,131.1 L109.9,130.5 L108.7,130.2 L107.4,130.8 L106.0,131.1 L104.8,130.9 L103.6,130.6 L102.3,130.9 L101.0,131.2 L99.7,131.5 L98.4,132.2 L97.2,132.7 L96.0,132.8 L95.0,133.1 L93.4,133.6 L91.9,134.1 L90.7,134.6 L89.5,135.2 L88.5,135.6 L87.0,136.4 L85.8,137.2 L85.0,137.7" fill="none" stroke="#8CCDF0" stroke-width="1.5" stroke-linejoin="round"/>
<path d="M85.00,134.75 L85.2,134.0 L85.5,133.0 L85.9,131.9 L86.2,130.5 L86.7,129.1 L87.1,127.7 L87.6,126.2 L88.1,124.8 L88.7,123.5 L89.3,122.3 L90.0,121.3 L90.8,120.3 L91.7,119.4 L92.6,118.6 L93.6,117.9 L94.6,117.3 L95.7,116.5 L97.0,115.7 L98.4,115.8 L100.0,115.1 L101.0,114.6 L102.0,114.3 L103.2,114.0 L104.4,114.3 L105.6,113.7 L106.9,113.3 L108.3,113.3 L109.6,113.1 L111.0,113.3 L112.4,113.3 L113.7,112.7 L115.0,112.2 L116.4,112.4 L117.6,112.6 L118.8,111.7 L120.0,111.8 L121.4,111.9 L122.7,111.7 L124.0,111.1 L125.3,111.3 L126.5,111.3 L127.8,110.7 L129.0,110.8 L130.2,110.4 L131.4,110.0 L132.5,110.0 L133.7,109.9 L134.8,109.9 L136.0,110.0 L137.3,110.1 L138.7,110.2 L139.9,110.2 L141.2,110.1 L142.4,109.7 L143.7,109.0 L144.9,108.5 L146.2,108.5 L147.4,108.3 L148.7,108.3 L150.0,107.6 L151.2,107.3 L152.5,107.7 L153.9,107.5 L155.2,107.5 L156.6,106.8 L157.9,106.6 L159.3,106.9 L160.6,106.7 L161.8,106.9 L163.0,106.1 L164.0,105.8 L165.0,105.9 L166.7,105.3 L168.0,105.2 L169.1,104.8 L170.1,103.9 L171.0,103.0 L172.0,102.7 L172.7,101.5 L173.3,100.4 L173.9,99.3 L174.4,98.6 L175.0,97.7 L175.5,96.2 L176.0,94.9 L176.5,93.9 L177.0,92.5 L177.5,91.1 L178.0,89.9 L178.5,88.7 L178.9,86.8 L179.4,85.4 L179.8,84.1 L180.3,83.5 L180.7,82.9 L181.7,81.5 L182.7,80.6 L184.5,80.0 L185.4,80.4 L186.4,81.0 L187.5,81.1 L188.7,81.1 L190.0,81.8 L191.3,82.3 L192.6,82.7 L193.8,83.0 L195.0,83.2 L196.3,84.0 L197.6,83.5 L198.8,83.6 L200.1,83.2 L201.3,82.8 L202.6,83.1 L203.8,82.7 L205.0,82.5 L206.3,82.7 L207.4,83.4 L208.6,83.8 L209.7,84.5 L210.9,84.5 L212.4,84.4 L214.0,84.2 L214.9,83.7 L215.8,83.4 L216.9,82.7 L218.0,81.7 L219.1,80.8 L220.3,80.5 L221.5,80.0 L222.7,79.5 L223.8,78.6 L225.0,77.6 L226.1,76.4 L227.2,76.0 L228.2,74.8 L229.2,74.2 L230.0,73.4 L231.4,72.4 L232.6,71.4 L233.7,70.5 L234.6,69.9 L235.5,69.1 L236.3,68.0 L237.1,67.6 L238.0,67.1 L239.2,66.4 L240.4,65.0 L241.5,64.6 L242.6,64.5 L243.6,63.7 L244.5,63.3 L246.1,63.8 L247.4,64.4 L248.4,65.3 L249.0,66.5 L249.5,67.2 L249.8,68.2 L250.0,70.3 L250.1,71.2 L250.1,72.3 L250.2,73.6 L250.2,74.9 L250.2,76.3 L250.2,77.7 L250.1,79.1 L250.0,80.4 L249.9,81.6 L249.8,83.2 L249.5,84.3 L249.2,85.4 L248.8,86.4 L248.3,87.9 L247.8,89.1 L247.2,90.3 L246.4,91.0 L245.6,91.8 L244.7,92.9 L243.7,94.1 L242.6,94.7 L241.5,95.9 L240.2,96.6 L238.9,97.4 L238.0,98.2 L237.1,98.5 L236.1,99.3 L235.2,100.3 L234.1,100.8 L233.1,101.3 L232.0,101.7 L231.0,102.6 L229.9,103.1 L228.8,103.8 L227.8,104.6 L226.8,105.6 L225.6,106.2 L224.5,106.6 L223.3,107.4 L222.1,107.5 L221.0,107.9 L219.8,108.5 L218.7,109.0 L217.5,109.1 L216.4,109.5 L215.3,110.4 L214.1,110.5 L212.9,111.3 L211.8,111.3 L210.6,112.3 L209.5,112.8 L208.3,113.0 L207.2,113.9 L206.0,114.4 L204.8,114.2 L203.6,114.5 L202.4,115.1 L201.1,116.1 L199.9,116.0 L198.6,116.1 L197.4,116.6 L196.2,116.8 L195.0,117.5 L193.8,118.1 L192.5,118.6 L191.1,118.8 L189.8,118.9 L188.4,119.9 L187.2,120.3 L186.0,120.8 L184.9,121.2 L183.9,121.9 L182.5,123.1 L181.5,124.1 L180.6,125.0 L179.7,125.7 L178.9,126.5 L178.2,127.4 L177.6,129.2 L177.0,130.0 L176.4,131.5 L175.8,133.2 L175.1,134.1 L174.3,135.3 L173.5,136.7 L172.7,138.6 L171.8,139.8 L171.0,140.7 L170.1,140.3 L169.4,140.2 L168.7,139.2 L168.0,137.8 L167.3,136.6 L166.6,135.3 L165.8,134.2 L165.0,133.2 L163.9,132.6 L162.8,131.7 L161.7,131.3 L160.5,131.2 L159.2,130.7 L158.0,130.0 L156.7,130.0 L155.3,130.1 L153.9,130.0 L152.5,129.2 L151.2,128.9 L150.0,128.5 L148.5,128.1 L147.2,128.3 L146.1,127.7 L145.0,127.1 L143.6,126.4 L142.4,126.0 L141.0,125.8 L140.0,125.5 L138.9,125.1 L137.7,125.1 L136.0,125.3 L135.0,126.1 L133.9,126.0 L132.7,126.6 L131.5,126.6 L130.1,127.3 L128.8,127.4 L127.5,128.1 L126.2,128.2 L125.0,128.1 L123.7,128.1 L122.4,128.8 L121.1,128.9 L119.9,129.0 L118.6,128.9 L117.4,129.2 L116.2,129.2 L115.0,128.8 L113.7,129.0 L112.4,128.9 L111.2,129.2 L109.9,129.0 L108.7,129.1 L107.4,128.6 L106.0,128.9 L104.8,129.1 L103.6,129.5 L102.3,129.9 L101.0,129.9 L99.7,130.1 L98.4,130.5 L97.2,130.3 L96.0,130.7 L95.0,130.9 L93.4,131.3 L91.9,131.8 L90.7,132.2 L89.5,132.7 L88.5,133.1 L87.0,133.7 L85.8,134.3 L85.0,134.8" fill="none" stroke="#F4D63E" stroke-width="1.5" stroke-linejoin="round"/>
<path d="M85.00,131.73 L85.3,131.0 L85.6,130.1 L86.0,129.0 L86.4,127.8 L86.9,126.4 L87.4,125.1 L88.0,123.8 L88.6,122.5 L89.3,121.4 L90.0,120.5 L90.8,119.6 L91.7,118.8 L92.6,118.2 L93.6,117.6 L94.6,117.0 L95.7,116.5 L97.0,116.0 L98.4,116.0 L100.0,115.5 L101.0,115.0 L102.0,114.4 L103.2,114.6 L104.4,113.8 L105.6,113.9 L106.9,113.9 L108.3,113.2 L109.6,112.9 L111.0,112.6 L112.4,112.6 L113.7,112.4 L115.0,112.6 L116.4,112.7 L117.6,112.1 L118.8,112.2 L120.0,111.5 L121.4,111.0 L122.7,111.2 L124.0,111.4 L125.3,111.4 L126.5,111.6 L127.8,111.5 L129.0,110.8 L130.2,110.9 L131.4,111.0 L132.5,110.3 L133.7,110.2 L134.8,109.8 L136.0,109.5 L137.3,109.6 L138.7,109.7 L139.9,109.9 L141.2,109.2 L142.4,109.0 L143.7,109.3 L144.9,109.2 L146.2,108.8 L147.4,108.2 L148.7,108.2 L150.0,107.7 L151.2,107.8 L152.5,107.7 L153.9,107.4 L155.2,107.5 L156.6,107.1 L157.9,106.9 L159.3,107.0 L160.6,106.4 L161.8,106.0 L163.0,106.0 L164.0,105.8 L165.0,106.0 L166.7,105.2 L168.0,104.8 L169.1,104.1 L170.1,103.9 L171.0,103.3 L172.0,102.6 L172.7,102.1 L173.4,100.6 L174.1,100.2 L174.7,99.1 L175.3,98.0 L175.9,96.6 L176.5,95.4 L177.0,94.1 L177.6,92.7 L178.1,91.2 L178.7,89.8 L179.2,88.5 L179.7,87.3 L180.2,86.7 L180.7,86.0 L181.7,84.5 L182.7,83.1 L184.5,82.9 L185.4,83.2 L186.4,83.8 L187.5,84.1 L188.7,84.7 L190.0,85.6 L191.3,85.7 L192.6,86.0 L193.8,86.7 L195.0,86.6 L196.3,86.9 L197.6,86.7 L198.8,86.1 L200.1,86.1 L201.3,85.6 L202.6,85.9 L203.8,86.0 L205.0,85.8 L206.3,86.2 L207.4,86.0 L208.6,86.3 L209.7,86.4 L210.9,86.4 L212.4,86.9 L214.0,86.2 L214.9,86.5 L215.8,86.0 L216.9,85.7 L218.0,84.6 L219.1,84.5 L220.3,84.0 L221.5,82.8 L222.7,82.0 L223.8,81.1 L225.0,80.7 L226.1,79.8 L227.2,79.6 L228.2,79.0 L229.2,78.6 L230.0,77.8 L231.4,77.1 L232.6,76.1 L233.7,75.5 L234.6,74.5 L235.5,74.3 L236.3,73.7 L237.1,73.1 L238.0,72.1 L239.4,70.9 L240.8,70.0 L242.1,69.3 L243.3,69.6 L244.4,69.1 L246.0,69.6 L247.3,69.9 L248.3,71.0 L249.2,71.7 L249.7,73.0 L250.1,75.3 L250.2,76.4 L250.2,77.7 L250.2,79.1 L250.2,80.5 L250.2,82.0 L250.1,83.5 L249.9,85.1 L249.7,86.3 L249.3,87.6 L248.9,88.8 L248.4,90.4 L247.8,91.7 L247.0,92.4 L246.1,93.1 L245.2,93.9 L244.2,95.1 L243.2,96.0 L242.0,96.2 L240.7,96.7 L239.4,97.4 L238.0,98.5 L237.0,99.3 L236.0,99.5 L234.9,100.1 L233.8,100.6 L232.6,101.9 L231.5,102.5 L230.3,103.5 L229.1,103.7 L228.0,104.4 L226.8,105.0 L225.7,105.9 L224.5,106.1 L223.3,106.3 L222.1,107.1 L221.0,107.9 L219.8,108.0 L218.6,108.1 L217.5,108.1 L216.3,108.7 L215.2,109.5 L214.1,109.7 L212.9,110.1 L211.7,110.6 L210.6,110.7 L209.4,110.9 L208.3,111.5 L207.2,112.5 L206.1,113.0 L204.9,113.0 L203.7,113.6 L202.5,114.2 L201.2,114.5 L200.0,114.6 L198.7,114.7 L197.4,115.4 L196.1,116.0 L194.9,116.0 L193.6,116.2 L192.5,116.4 L191.2,117.4 L189.9,118.2 L188.6,118.5 L187.3,118.9 L186.1,119.4 L185.0,119.4 L183.9,120.0 L183.0,120.5 L181.7,121.8 L180.7,122.2 L179.8,123.6 L179.0,124.2 L178.2,125.5 L177.6,126.8 L177.0,127.3 L176.5,128.6 L175.9,129.3 L175.3,130.6 L174.7,131.7 L173.8,133.3 L172.9,134.3 L171.9,135.6 L170.9,136.3 L169.9,136.5 L169.2,135.6 L168.5,134.4 L167.8,133.5 L167.1,131.9 L166.3,131.0 L165.6,129.7 L164.7,129.2 L163.5,128.8 L162.2,128.7 L160.9,128.0 L159.5,127.5 L158.0,127.4 L156.7,127.7 L155.3,127.1 L153.9,126.9 L152.5,126.5 L151.2,126.0 L150.0,126.0 L148.5,125.6 L147.2,125.4 L146.1,125.4 L145.0,125.2 L143.6,124.5 L142.4,124.2 L141.0,124.0 L140.0,124.1 L138.9,123.4 L137.7,123.4 L136.0,124.0 L135.0,124.2 L133.9,124.4 L132.7,124.7 L131.5,125.1 L130.1,125.5 L128.8,126.0 L127.5,126.3 L126.2,126.7 L125.0,126.7 L123.7,126.4 L122.4,126.4 L121.1,127.0 L119.9,127.2 L118.6,127.2 L117.4,126.8 L116.2,126.6 L115.0,127.0 L113.7,127.0 L112.4,126.7 L111.2,127.2 L109.9,126.8 L108.7,127.2 L107.4,127.1 L106.0,127.5 L104.8,127.6 L103.6,127.2 L102.3,127.1 L101.0,127.8 L99.7,127.8 L98.4,128.0 L97.2,128.4 L96.0,128.6 L95.0,128.6 L93.4,129.0 L91.9,129.4 L90.7,129.7 L89.5,130.1 L88.5,130.4 L87.0,130.9 L85.8,131.4 L85.0,131.7" fill="none" stroke="#3D5F2C" stroke-width="1.5" stroke-linejoin="round"/>
<path d="M85.00,128.60 L85.4,127.9 L85.8,126.9 L86.3,125.7 L86.9,124.4 L87.5,123.1 L88.3,121.8 L89.1,120.6 L90.0,119.7 L90.8,118.9 L91.7,118.3 L92.6,117.7 L93.6,117.2 L94.6,116.7 L95.7,116.1 L97.0,116.1 L98.4,115.9 L100.0,115.1 L101.0,115.3 L102.0,114.4 L103.2,114.5 L104.4,114.5 L105.6,113.7 L106.9,113.7 L108.3,113.5 L109.6,113.6 L111.0,112.9 L112.4,112.7 L113.7,112.9 L115.0,112.6 L116.4,112.1 L117.6,111.6 L118.8,112.0 L120.0,111.7 L121.4,112.0 L122.7,111.2 L124.0,111.4 L125.3,111.4 L126.5,111.5 L127.8,110.7 L129.0,110.5 L130.2,110.1 L131.4,110.5 L132.5,110.2 L133.7,110.6 L134.8,110.2 L136.0,110.3 L137.3,110.3 L138.7,109.7 L139.9,109.5 L141.2,109.7 L142.4,109.3 L143.7,108.9 L144.9,108.5 L146.2,108.7 L147.4,108.1 L148.7,108.1 L150.0,108.0 L151.2,107.8 L152.5,107.3 L153.9,107.4 L155.2,107.6 L156.6,107.1 L157.9,106.7 L159.3,107.0 L160.6,106.7 L161.8,106.2 L163.0,105.6 L164.0,105.9 L165.0,105.6 L166.7,105.2 L168.0,104.8 L169.1,104.7 L170.1,104.5 L171.0,103.6 L172.0,102.6 L172.8,102.4 L173.6,101.7 L174.4,100.0 L175.1,99.0 L175.7,98.1 L176.4,96.8 L177.0,96.0 L177.7,95.0 L178.3,93.5 L178.9,92.0 L179.5,90.4 L180.0,89.2 L180.6,88.2 L181.7,86.8 L182.7,86.2 L184.5,86.6 L185.4,86.8 L186.4,87.3 L187.5,87.9 L188.7,88.4 L190.0,88.2 L191.3,89.1 L192.6,88.9 L193.8,89.6 L195.0,90.0 L196.3,90.0 L197.6,89.7 L198.8,89.1 L200.1,88.7 L201.3,88.9 L202.6,88.5 L203.8,88.5 L205.0,88.3 L206.3,88.2 L207.4,88.5 L208.6,89.2 L209.7,89.4 L210.9,89.5 L212.4,89.5 L214.0,89.3 L214.9,89.1 L216.0,88.6 L217.1,88.7 L218.3,88.2 L219.5,87.2 L220.8,86.5 L222.1,85.8 L223.3,85.2 L224.6,84.4 L225.8,84.3 L227.0,83.8 L228.1,83.2 L229.1,83.1 L230.0,82.3 L231.6,81.6 L232.9,81.1 L234.1,80.2 L235.1,79.5 L236.1,78.7 L237.0,78.5 L238.0,78.0 L239.4,77.0 L240.8,76.2 L242.0,75.9 L243.2,75.6 L244.3,75.4 L245.9,75.3 L247.2,76.0 L248.3,77.0 L249.1,78.1 L249.8,79.1 L250.1,80.8 L250.2,81.8 L250.3,83.1 L250.3,84.4 L250.2,85.8 L250.1,87.2 L249.9,88.8 L249.7,90.1 L249.2,91.3 L248.6,92.7 L247.8,93.5 L246.9,94.4 L245.8,95.6 L244.8,96.5 L243.7,96.6 L242.6,97.2 L241.3,98.2 L240.0,98.7 L238.6,99.6 L237.1,99.6 L236.1,100.4 L235.0,101.1 L233.9,101.0 L232.8,101.7 L231.6,102.6 L230.4,102.8 L229.2,103.6 L228.0,104.4 L226.9,105.1 L225.7,105.3 L224.6,105.3 L223.4,105.9 L222.2,106.1 L221.0,106.7 L219.8,106.9 L218.6,107.3 L217.4,107.8 L216.2,108.4 L215.1,109.1 L214.0,109.0 L212.8,108.8 L211.5,109.6 L210.2,109.9 L208.9,110.5 L207.7,111.1 L206.5,110.9 L205.2,111.6 L203.9,111.8 L202.6,112.1 L201.3,112.4 L200.1,112.9 L198.8,113.1 L197.4,113.6 L196.1,113.8 L194.8,114.0 L193.5,114.4 L192.3,115.1 L191.1,115.4 L189.8,115.7 L188.6,116.2 L187.3,116.5 L186.1,117.6 L185.0,118.2 L183.9,118.2 L183.0,118.6 L182.1,119.2 L180.9,120.2 L179.9,121.0 L179.1,122.1 L178.3,123.3 L177.5,123.9 L176.8,125.1 L176.2,126.0 L175.6,127.4 L175.0,128.3 L174.3,129.6 L173.2,130.7 L172.0,131.6 L170.8,131.6 L169.6,131.4 L168.8,130.5 L168.0,129.8 L167.2,128.9 L166.3,127.5 L165.5,126.3 L164.5,125.8 L163.3,125.5 L162.1,125.4 L160.8,125.0 L159.4,124.7 L158.0,124.5 L156.7,124.2 L155.3,123.8 L153.9,123.5 L152.5,123.6 L151.2,123.5 L150.0,123.8 L148.5,123.3 L147.2,122.8 L146.1,123.1 L145.0,122.4 L143.6,122.1 L142.4,122.2 L141.0,121.9 L140.0,122.3 L138.9,122.3 L137.7,122.1 L136.0,122.6 L135.0,122.9 L133.9,122.8 L132.7,122.6 L131.5,122.5 L130.1,123.3 L128.8,123.8 L127.5,124.0 L126.2,124.3 L125.0,124.5 L123.7,124.2 L122.4,124.1 L121.1,124.7 L119.9,125.0 L118.6,124.8 L117.4,124.6 L116.2,124.4 L115.0,124.6 L113.7,125.2 L112.4,124.8 L111.2,124.7 L109.9,124.4 L108.7,124.7 L107.4,124.4 L106.0,124.9 L104.8,125.0 L103.6,125.1 L102.3,125.0 L101.0,125.2 L99.7,125.8 L98.4,126.3 L97.2,126.4 L96.0,126.1 L95.0,126.3 L93.4,126.6 L91.9,126.9 L90.7,127.2 L89.5,127.4 L88.5,127.7 L87.0,128.1 L85.8,128.4 L85.0,128.6" fill="none" stroke="#A6CE48" stroke-width="1.5" stroke-linejoin="round"/>
<path d="M85.00,125.31 L85.5,124.6 L86.1,123.5 L86.9,122.3 L87.8,121.0 L88.8,119.8 L90.0,118.8 L90.9,118.2 L91.9,117.6 L92.9,117.1 L94.1,116.6 L95.3,115.9 L96.7,116.0 L98.2,115.9 L100.0,114.8 L101.0,114.9 L102.0,114.7 L103.2,114.2 L104.4,113.8 L105.6,113.8 L106.9,113.5 L108.3,113.5 L109.6,113.3 L111.0,112.7 L112.4,112.8 L113.7,113.0 L115.0,113.0 L116.4,112.6 L117.6,111.8 L118.8,111.2 L120.0,111.0 L121.4,111.5 L122.7,111.2 L124.0,111.0 L125.3,111.3 L126.5,110.9 L127.8,110.8 L129.0,110.6 L130.2,110.2 L131.4,110.3 L132.5,110.6 L133.7,110.1 L134.8,109.8 L136.0,109.8 L137.3,109.3 L138.7,109.4 L139.9,109.6 L141.2,109.5 L142.4,109.3 L143.7,109.3 L144.9,108.6 L146.2,108.5 L147.4,108.2 L148.7,108.2 L150.0,107.6 L151.2,107.9 L152.5,107.3 L153.9,107.0 L155.2,107.3 L156.6,107.5 L157.9,107.1 L159.3,106.7 L160.6,106.3 L161.8,106.0 L163.0,106.1 L164.0,105.6 L165.0,105.3 L166.7,105.1 L168.0,104.6 L169.1,104.6 L170.1,104.6 L171.0,104.2 L172.0,103.4 L173.0,102.4 L173.9,101.5 L174.7,100.1 L175.5,99.5 L176.3,98.3 L177.0,97.2 L177.8,95.8 L178.5,94.7 L179.2,93.7 L179.9,92.6 L180.6,92.1 L181.6,91.1 L182.7,90.2 L184.5,90.2 L185.4,90.7 L186.4,90.7 L187.5,91.0 L188.7,90.9 L190.0,91.5 L191.3,91.9 L192.6,92.2 L193.8,92.4 L195.0,92.7 L196.3,92.8 L197.6,92.7 L198.8,92.2 L200.1,92.1 L201.3,92.4 L202.6,92.0 L203.8,91.3 L205.0,91.0 L206.3,91.4 L207.4,91.3 L208.6,91.4 L209.7,91.6 L210.9,92.0 L212.4,92.6 L214.0,92.3 L215.0,92.0 L216.2,91.7 L217.4,91.3 L218.7,90.9 L220.0,90.8 L221.4,90.6 L222.7,90.1 L224.1,89.4 L225.4,89.0 L226.7,88.8 L227.9,87.9 L229.0,87.3 L230.0,87.2 L231.6,86.8 L232.9,86.3 L234.1,85.7 L235.1,85.4 L236.1,84.8 L237.0,84.6 L238.0,84.4 L239.4,83.6 L240.7,83.5 L242.0,83.1 L243.1,83.1 L244.2,82.3 L245.7,82.8 L247.1,83.3 L248.2,84.1 L249.1,85.1 L249.8,85.6 L250.2,86.9 L250.3,88.1 L250.3,89.5 L250.2,91.0 L250.0,92.3 L249.6,93.5 L248.9,94.5 L248.0,95.5 L246.9,96.5 L245.4,97.3 L244.5,98.5 L243.5,99.1 L242.5,99.2 L241.3,99.7 L240.1,100.0 L238.8,100.2 L237.5,100.4 L236.1,101.0 L235.1,101.4 L234.0,101.5 L232.9,101.9 L231.7,102.6 L230.5,103.2 L229.3,103.4 L228.1,104.1 L226.9,104.9 L225.7,105.5 L224.5,105.8 L223.4,105.6 L222.2,106.0 L220.9,106.0 L219.7,106.2 L218.5,106.6 L217.3,107.0 L216.1,107.7 L214.9,108.0 L213.8,108.0 L212.6,108.5 L211.5,108.7 L210.2,109.0 L208.9,109.1 L207.7,109.5 L206.4,109.7 L205.2,110.3 L204.0,110.6 L202.7,110.9 L201.4,111.2 L200.3,111.5 L199.1,111.9 L197.9,112.3 L196.7,112.8 L195.4,112.7 L194.2,113.2 L193.0,113.8 L191.8,114.2 L190.7,114.4 L189.7,114.1 L188.2,114.9 L186.9,115.6 L185.5,115.5 L184.3,116.0 L183.1,116.5 L182.1,117.5 L181.1,118.2 L180.0,118.8 L179.0,119.5 L178.2,120.3 L177.5,121.1 L176.8,122.6 L176.0,124.2 L175.3,125.0 L174.6,126.4 L173.8,127.4 L172.4,127.2 L170.9,127.0 L169.3,126.2 L168.4,125.9 L167.4,125.1 L166.4,123.3 L165.4,122.2 L164.3,122.0 L163.1,121.7 L161.9,121.7 L160.7,122.1 L159.4,122.3 L158.0,122.5 L156.7,121.9 L155.3,121.2 L153.9,121.4 L152.5,120.7 L151.2,120.8 L150.0,121.0 L148.5,120.6 L147.2,120.5 L146.1,120.0 L145.0,119.7 L143.6,119.9 L142.4,120.2 L141.0,120.5 L140.0,119.8 L138.9,120.4 L137.7,120.3 L136.0,120.3 L135.0,120.4 L133.9,120.6 L132.7,120.6 L131.5,120.5 L130.1,121.2 L128.8,121.5 L127.5,121.6 L126.2,121.9 L125.0,122.3 L123.7,121.9 L122.4,122.3 L121.1,122.6 L119.9,122.3 L118.6,122.4 L117.4,122.5 L116.2,122.3 L115.0,122.4 L113.7,122.3 L112.4,122.9 L111.2,122.6 L109.9,122.8 L108.7,122.9 L107.4,123.3 L106.0,123.4 L104.8,123.1 L103.6,123.0 L102.3,122.7 L101.0,122.6 L99.7,122.9 L98.4,123.7 L97.2,123.3 L96.0,123.3 L95.0,123.8 L93.4,124.0 L91.9,124.3 L90.7,124.5 L89.5,124.7 L88.5,124.8 L86.3,125.1 L85.0,125.3" fill="none" stroke="#6B3FA0" stroke-width="1.5" stroke-linejoin="round"/>
<path d="M85.00,121.50 L85.6,121.0 L86.4,120.3 L87.4,119.4 L88.6,118.6 L90.0,117.8 L90.9,117.4 L91.9,117.0 L92.9,116.6 L94.1,116.3 L95.3,115.6 L96.7,115.8 L98.2,115.3 L100.0,115.2 L101.0,114.8 L102.0,114.6 L103.2,114.0 L104.4,114.0 L105.6,114.1 L106.9,113.7 L108.3,113.6 L109.6,113.4 L111.0,112.7 L112.4,112.8 L113.7,112.6 L115.0,112.2 L116.4,111.6 L117.6,112.0 L118.8,111.8 L120.0,111.8 L121.4,111.9 L122.7,111.7 L124.0,111.7 L125.3,111.2 L126.5,111.3 L127.8,110.9 L129.0,111.1 L130.2,111.1 L131.4,110.4 L132.5,110.0 L133.7,109.8 L134.8,110.3 L136.0,110.0 L137.3,110.0 L138.7,109.6 L139.9,109.4 L141.2,109.2 L142.4,108.9 L143.7,108.9 L144.9,108.8 L146.2,109.0 L147.4,108.7 L148.7,108.8 L150.0,108.6 L151.2,108.6 L152.5,108.2 L153.9,107.4 L155.2,107.6 L156.6,107.7 L157.9,107.6 L159.3,107.1 L160.6,106.9 L161.8,106.3 L163.0,106.4 L164.0,106.2 L165.0,105.7 L166.7,105.0 L168.0,105.2 L169.1,105.3 L170.1,104.3 L171.0,104.2 L172.0,103.5 L173.2,102.5 L174.2,101.7 L175.2,101.3 L176.1,100.7 L177.0,99.3 L178.0,98.4 L178.8,96.9 L179.6,96.3 L180.5,95.3 L181.6,95.0 L182.7,94.9 L184.5,94.6 L185.5,95.0 L186.7,94.8 L188.0,94.6 L189.4,95.2 L190.8,95.2 L192.3,95.4 L193.7,95.8 L195.0,96.2 L196.3,96.0 L197.6,95.6 L198.8,96.1 L200.1,95.7 L201.3,96.0 L202.6,96.0 L203.8,95.4 L205.0,95.2 L206.3,95.2 L207.4,95.4 L208.6,95.5 L209.7,95.6 L210.9,95.7 L212.4,96.0 L214.0,95.7 L215.0,95.5 L216.2,95.6 L217.4,95.1 L218.7,94.9 L220.0,95.3 L221.4,95.0 L222.7,94.8 L224.1,94.1 L225.4,94.1 L226.7,94.1 L227.9,93.6 L229.0,93.8 L230.0,93.9 L231.8,93.2 L233.3,93.3 L234.6,93.0 L235.8,93.0 L236.9,92.7 L238.0,92.8 L239.4,92.8 L240.6,92.2 L241.8,91.9 L243.0,92.3 L244.0,92.9 L245.5,92.6 L246.9,92.8 L248.0,93.3 L249.5,94.0 L250.3,95.5 L250.3,97.3 L249.5,98.8 L248.5,99.6 L247.0,99.9 L245.0,100.3 L244.0,100.8 L243.0,100.5 L241.8,101.0 L240.5,101.4 L239.2,101.4 L237.8,101.4 L236.4,102.1 L235.0,102.1 L233.9,102.2 L232.8,102.6 L231.6,103.3 L230.5,103.2 L229.2,103.6 L228.0,104.0 L226.8,104.8 L225.6,105.1 L224.3,105.7 L223.2,105.6 L222.0,105.8 L220.8,106.3 L219.5,106.9 L218.3,106.9 L217.0,106.7 L215.8,106.7 L214.6,107.1 L213.4,107.1 L212.3,107.7 L211.1,108.2 L210.0,107.9 L208.7,108.0 L207.4,108.6 L206.2,108.9 L205.0,109.3 L203.8,109.3 L202.6,109.2 L201.3,109.4 L200.0,110.1 L198.9,110.1 L197.7,110.2 L196.4,110.5 L195.2,110.7 L193.9,111.0 L192.6,111.7 L191.4,111.5 L190.2,111.4 L189.0,112.3 L188.0,112.9 L186.6,113.6 L185.3,113.8 L184.1,114.6 L182.9,115.3 L181.9,115.4 L180.9,116.1 L180.0,116.9 L178.9,117.8 L178.0,118.5 L177.3,119.2 L176.7,120.0 L176.0,120.7 L175.1,121.8 L174.3,123.3 L173.3,123.7 L172.4,123.7 L171.3,122.3 L170.2,121.7 L169.0,120.8 L167.8,120.1 L166.6,119.3 L165.3,118.6 L164.0,117.9 L162.9,117.2 L161.8,117.8 L160.6,117.8 L159.3,118.1 L158.0,118.5 L156.7,118.5 L155.4,118.2 L153.9,118.4 L152.5,118.1 L151.2,117.6 L150.0,117.3 L148.5,117.6 L147.2,117.4 L146.1,117.6 L145.0,117.3 L143.6,117.1 L142.4,117.4 L141.0,117.8 L140.0,117.5 L138.9,118.0 L137.7,118.5 L136.0,118.7 L135.0,118.8 L133.9,118.2 L132.7,118.5 L131.5,118.9 L130.1,118.4 L128.8,118.4 L127.5,118.4 L126.2,118.7 L125.0,118.9 L123.7,119.0 L122.4,119.4 L121.1,119.0 L119.9,118.9 L118.6,119.0 L117.4,119.1 L116.2,119.2 L115.0,120.1 L113.7,120.5 L112.4,120.0 L111.2,120.2 L109.9,120.1 L108.7,120.1 L107.4,120.2 L106.0,120.5 L104.8,120.6 L103.6,120.5 L102.3,120.3 L101.0,120.4 L99.7,120.3 L98.4,120.6 L97.2,121.0 L96.0,120.9 L95.0,121.0 L93.4,121.1 L91.9,121.2 L90.7,121.3 L89.5,121.4 L88.5,121.5 L86.3,121.5 L85.0,121.5" fill="none" stroke="#F2A33A" stroke-width="1.5" stroke-linejoin="round"/>
<path d="M88.20,195.50 C88.32,193.75 88.63,188.25 88.90,185.00 C89.17,181.75 89.40,179.77 89.80,176.00 C90.20,172.23 90.57,166.95 91.30,162.40 C92.03,157.85 93.00,152.72 94.20,148.70 C95.40,144.68 96.75,141.17 98.50,138.30 C100.25,135.43 102.78,133.38 104.70,131.50 C106.62,129.62 108.28,128.42 110.00,127.00 C111.72,125.58 113.33,124.20 115.00,123.00 C116.67,121.80 117.50,121.17 120.00,119.80 C122.50,118.43 128.33,115.63 130.00,114.80" fill="none" stroke="#34569C" stroke-width="1.5"/>
<text x="145.2" y="31.3" class="lb">100 (mV/s)</text>
<text x="156.6" y="95.6" text-anchor="middle" class="lb" style="font-size:17px">10</text>
<path d="M156.4,44.2 V37.5" stroke="#111" stroke-width="1.7"/><path d="M153.6,39 L156.4,33.6 L159.2,39 Z" fill="#111"/>
<path d="M156.4,49 V62.1" stroke="#111" stroke-width="1.7"/><path d="M155.55,67.7 H157.25 L156.75,80.8 H156.05 Z" fill="#111"/>
<text x="225.9" y="178.2" text-anchor="middle" class="lb2">NIP</text>
<path d="M368.00,121.50 C368.67,119.75 370.00,113.17 372.00,111.00 C374.00,108.83 375.33,109.42 380.00,108.50 C384.67,107.58 393.33,107.33 400.00,105.50 C406.67,103.67 413.50,99.50 420.00,97.50 C426.50,95.50 433.83,95.00 439.00,93.50 C444.17,92.00 447.95,90.67 451.00,88.50 C454.05,86.33 455.80,84.25 457.30,80.50 C458.80,76.75 458.63,73.25 460.00,66.00 C461.37,58.75 463.92,42.93 465.50,37.00 C467.08,31.07 467.92,30.90 469.50,30.40 C471.08,29.90 472.75,31.73 475.00,34.00 C477.25,36.27 480.50,41.25 483.00,44.00 C485.50,46.75 487.67,49.03 490.00,50.50 C492.33,51.97 493.67,53.38 497.00,52.80 C500.33,52.22 506.17,49.30 510.00,47.00 C513.83,44.70 516.28,40.92 520.00,39.00 C523.72,37.08 530.17,33.67 532.30,35.50 C534.43,37.33 533.10,45.92 532.80,50.00 C532.50,54.08 533.47,57.08 530.50,60.00 C527.53,62.92 521.25,64.67 515.00,67.50 C508.75,70.33 498.50,74.58 493.00,77.00 C487.50,79.42 485.33,80.92 482.00,82.00 C478.67,83.08 475.25,82.00 473.00,83.50 C470.75,85.00 469.83,87.75 468.50,91.00 C467.17,94.25 466.12,97.50 465.00,103.00 C463.88,108.50 463.10,116.67 461.80,124.00 C460.50,131.33 459.00,144.75 457.20,147.00 C455.40,149.25 453.70,141.58 451.00,137.50 C448.30,133.42 443.27,125.50 441.00,122.50 C438.73,119.50 438.82,119.42 437.40,119.50 C435.98,119.58 434.65,123.50 432.50,123.00 C430.35,122.50 426.92,117.08 424.50,116.50 C422.08,115.92 420.00,117.00 418.00,119.50 C416.00,122.00 414.67,127.58 412.50,131.50 C410.33,135.42 407.08,139.58 405.00,143.00 C402.92,146.42 401.20,149.58 400.00,152.00 C398.80,154.42 398.55,155.75 397.80,157.50 C397.05,159.25 396.30,162.75 395.50,162.50 C394.70,162.25 394.08,158.75 393.00,156.00 C391.92,153.25 390.67,149.42 389.00,146.00 C387.33,142.58 385.33,138.75 383.00,135.50 C380.67,132.25 377.50,128.83 375.00,126.50 C372.50,124.17 369.17,122.33 368.00,121.50" fill="none" stroke="#34569C" stroke-width="1.5" stroke-linejoin="round"/>
<path d="M368.00,120.68 C368.67,119.04 370.00,112.86 372.00,110.83 C374.00,108.80 375.33,109.35 380.00,108.49 C384.67,107.63 393.33,107.47 400.00,105.67 C406.67,103.87 413.50,99.67 420.00,97.67 C426.50,95.67 433.83,95.18 439.00,93.68 C444.17,92.18 447.94,90.85 451.00,88.67 C454.06,86.49 455.84,84.36 457.35,80.60 C458.85,76.84 458.69,73.17 460.03,66.10 C461.38,59.04 463.85,43.95 465.41,38.22 C466.96,32.50 467.77,32.25 469.34,31.75 C470.92,31.26 472.63,33.04 474.87,35.25 C477.12,37.47 480.26,42.35 482.80,45.06 C485.33,47.76 487.59,50.02 490.07,51.49 C492.56,52.97 494.25,54.36 497.71,53.88 C501.17,53.41 507.03,50.76 510.85,48.65 C514.66,46.54 517.02,43.02 520.59,41.24 C524.16,39.46 530.25,36.29 532.27,37.99 C534.30,39.70 533.06,47.69 532.76,51.48 C532.45,55.26 533.39,57.98 530.43,60.70 C527.47,63.43 521.24,65.12 515.00,67.83 C508.76,70.53 498.50,74.62 493.00,76.93 C487.50,79.24 485.33,80.66 482.00,81.69 C478.67,82.73 475.26,81.68 473.00,83.16 C470.74,84.64 469.80,87.30 468.47,90.56 C467.13,93.82 466.11,97.30 465.00,102.73 C463.89,108.15 463.10,116.05 461.83,123.11 C460.55,130.17 459.15,142.95 457.36,145.09 C455.58,147.23 453.86,139.86 451.14,135.93 C448.41,132.00 443.28,124.36 441.00,121.51 C438.72,118.66 438.86,118.72 437.44,118.82 C436.02,118.91 434.64,122.58 432.50,122.08 C430.36,121.58 427.02,116.37 424.60,115.82 C422.19,115.26 420.02,116.34 418.00,118.75 C415.98,121.15 414.67,126.47 412.50,130.25 C410.33,134.02 407.08,138.15 405.00,141.42 C402.92,144.68 401.20,147.61 400.00,149.85 C398.80,152.09 398.55,153.29 397.80,154.85 C397.05,156.41 396.30,159.52 395.50,159.21 C394.70,158.89 394.08,155.44 393.00,152.94 C391.92,150.44 390.67,147.31 389.00,144.22 C387.33,141.14 385.33,137.49 383.00,134.42 C380.67,131.35 377.50,128.09 375.00,125.79 C372.50,123.49 369.17,121.48 368.00,120.62" fill="none" stroke="#DE4A2C" stroke-width="1.5" stroke-linejoin="round"/>
<path d="M368.00,119.82 C368.67,118.29 370.00,112.54 372.00,110.65 C374.00,108.76 375.33,109.27 380.00,108.47 C384.67,107.67 393.33,107.62 400.00,105.85 C406.67,104.08 413.50,99.85 420.00,97.85 C426.50,95.85 433.83,95.38 439.00,93.88 C444.17,92.38 447.93,91.04 451.00,88.85 C454.07,86.66 455.89,84.48 457.40,80.71 C458.91,76.94 458.75,73.08 460.07,66.21 C461.39,59.34 463.79,45.02 465.31,39.52 C466.82,34.01 467.60,33.68 469.18,33.19 C470.75,32.70 472.51,34.42 474.74,36.58 C476.98,38.75 480.01,43.51 482.58,46.17 C485.15,48.83 487.51,51.06 490.15,52.53 C492.80,54.01 494.86,55.37 498.45,55.01 C502.05,54.65 507.93,52.26 511.72,50.35 C515.51,48.44 517.78,45.18 521.20,43.55 C524.62,41.92 530.33,38.99 532.25,40.57 C534.17,42.14 533.03,49.53 532.71,53.01 C532.40,56.49 533.31,58.91 530.36,61.44 C527.41,63.97 521.23,65.60 515.00,68.17 C508.77,70.74 498.50,74.66 493.00,76.86 C487.50,79.06 485.33,80.38 482.00,81.37 C478.67,82.36 475.26,81.35 473.00,82.80 C470.74,84.25 469.76,86.82 468.43,90.09 C467.10,93.36 466.10,97.09 465.00,102.44 C463.90,107.79 463.10,115.41 461.86,122.18 C460.61,128.95 459.30,141.06 457.54,143.08 C455.77,145.10 454.04,138.05 451.28,134.28 C448.52,130.51 443.30,123.17 441.00,120.47 C438.70,117.77 438.90,117.99 437.48,118.10 C436.07,118.21 434.63,121.61 432.50,121.11 C430.37,120.61 427.13,115.63 424.71,115.10 C422.29,114.58 420.03,115.65 418.00,117.96 C415.97,120.27 414.67,125.30 412.50,128.94 C410.33,132.57 407.08,136.65 405.00,139.76 C402.92,142.87 401.20,145.55 400.00,147.60 C398.80,149.65 398.55,150.71 397.80,152.07 C397.05,153.44 396.30,156.15 395.50,155.76 C394.70,155.38 394.08,152.17 393.00,149.75 C391.92,147.32 390.67,144.16 389.00,141.23 C387.33,138.30 385.33,134.99 383.00,132.17 C380.67,129.35 377.50,126.38 375.00,124.30 C372.50,122.22 369.17,120.46 368.00,119.69" fill="none" stroke="#6FB044" stroke-width="1.5" stroke-linejoin="round"/>
<path d="M368.00,118.91 C368.67,117.50 370.00,112.20 372.00,110.46 C374.00,108.72 375.33,109.19 380.00,108.46 C384.67,107.72 393.33,107.78 400.00,106.04 C406.67,104.30 413.50,100.03 420.00,98.04 C426.50,96.05 433.83,95.58 439.00,94.08 C444.17,92.58 447.92,91.25 451.00,89.04 C454.08,86.83 455.93,84.61 457.45,80.82 C458.97,77.04 458.82,72.98 460.11,66.32 C461.40,59.67 463.72,46.17 465.20,40.90 C466.68,35.63 467.43,35.20 469.00,34.72 C470.57,34.23 472.37,35.89 474.60,38.00 C476.83,40.10 479.75,44.74 482.35,47.35 C484.96,49.95 487.42,52.15 490.23,53.63 C493.04,55.10 495.49,56.44 499.22,56.19 C502.96,55.93 508.85,53.82 512.62,52.11 C516.39,50.41 518.57,47.43 521.84,45.95 C525.10,44.47 530.42,41.80 532.22,43.24 C534.03,44.68 532.99,51.42 532.67,54.59 C532.35,57.75 533.23,59.90 530.28,62.22 C527.34,64.55 521.21,66.11 515.00,68.54 C508.79,70.96 498.50,74.70 493.00,76.78 C487.50,78.87 485.33,80.09 482.00,81.03 C478.67,81.97 475.27,80.99 473.00,82.42 C470.73,83.85 469.73,86.31 468.39,89.60 C467.06,92.88 466.08,96.87 465.00,102.14 C463.92,107.40 463.10,114.72 461.89,121.19 C460.67,127.66 459.46,139.06 457.72,140.95 C455.98,142.84 454.22,136.13 451.43,132.53 C448.65,128.94 443.32,121.90 441.00,119.37 C438.68,116.84 438.95,117.22 437.53,117.34 C436.11,117.46 434.62,120.58 432.50,120.08 C430.38,119.58 427.24,114.83 424.82,114.34 C422.41,113.85 420.05,114.92 418.00,117.12 C415.95,119.33 414.67,124.08 412.50,127.56 C410.33,131.04 407.08,135.07 405.00,138.02 C402.92,140.96 401.20,143.38 400.00,145.23 C398.80,147.09 398.55,148.01 397.80,149.16 C397.05,150.31 396.30,152.61 395.50,152.14 C394.70,151.68 394.08,148.85 393.00,146.39 C391.92,143.92 390.67,140.23 389.00,137.35 C387.33,134.47 385.33,131.59 383.00,129.08 C380.67,126.56 377.50,123.99 375.00,122.26 C372.50,120.54 369.17,119.31 368.00,118.72" fill="none" stroke="#A33A3A" stroke-width="1.5" stroke-linejoin="round"/>
<path d="M373.60,194.20 C373.92,192.17 374.87,186.03 375.50,182.00 C376.13,177.97 376.48,174.00 377.40,170.00 C378.32,166.00 379.57,161.73 381.00,158.00 C382.43,154.27 383.92,151.40 386.00,147.60 C388.08,143.80 390.67,139.32 393.50,135.20 C396.33,131.08 400.58,126.10 403.00,122.90 C405.42,119.70 406.17,118.40 408.00,116.00 C409.83,113.60 411.67,110.50 414.00,108.50 C416.33,106.50 419.33,105.17 422.00,104.00 C424.67,102.83 427.00,102.25 430.00,101.50 C433.00,100.75 436.50,101.00 440.00,99.50 C443.50,98.00 448.17,94.92 451.00,92.50 C453.83,90.08 455.48,89.34 457.00,85.00 C458.52,80.66 458.80,73.55 460.15,66.45 C461.50,59.34 463.64,47.40 465.09,42.39 C466.53,37.37 467.25,36.84 468.81,36.37 C470.37,35.89 472.23,37.48 474.45,39.52 C476.66,41.56 479.46,46.06 482.11,48.61 C484.75,51.15 487.33,53.32 490.32,54.79 C493.31,56.26 496.16,57.56 500.04,57.42 C503.91,57.28 509.82,55.45 513.57,53.95 C517.31,52.46 519.39,49.77 522.50,48.45 C525.60,47.12 530.51,44.72 532.19,46.02 C533.88,47.32 532.95,53.40 532.62,56.24 C532.29,59.08 533.14,60.95 530.20,63.06 C527.27,65.18 521.20,66.65 515.00,68.93 C508.80,71.20 498.50,74.75 493.00,76.70 C487.50,78.66 485.33,79.78 482.00,80.66 C478.67,81.55 475.27,80.61 473.00,82.01 C470.73,83.41 469.68,85.77 468.35,89.07 C467.02,92.37 466.07,96.63 465.00,101.81 C463.93,106.99 463.10,113.99 461.92,120.14 C460.74,126.28 459.63,136.92 457.91,138.68 C456.19,140.43 454.41,134.08 451.59,130.66 C448.78,127.25 443.34,120.55 441.00,118.19 C438.66,115.83 438.99,116.40 437.58,116.53 C436.16,116.66 434.61,119.49 432.50,118.99 C430.39,118.49 427.36,113.99 424.95,113.53 C422.53,113.07 420.07,114.14 418.00,116.23 C415.93,118.33 414.67,122.78 412.50,126.10 C410.33,129.43 407.08,133.40 405.00,136.17 C402.92,138.94 401.20,141.08 400.00,142.73 C398.80,144.38 398.55,145.14 397.80,146.07 C397.05,147.00 396.30,148.85 395.50,148.31 C394.70,147.76 394.08,145.39 393.00,142.82 C391.92,140.26 390.67,135.80 389.00,132.91 C387.33,130.01 385.33,127.64 383.00,125.47 C380.67,123.30 377.50,121.18 375.00,119.88 C372.50,118.59 369.17,118.05 368.00,117.69" fill="none" stroke="#8CCDF0" stroke-width="1.5" stroke-linejoin="round"/>
<path d="M369.40,185.60 C369.62,183.33 370.18,176.60 370.70,172.00 C371.22,167.40 371.70,162.55 372.50,158.00 C373.30,153.45 373.92,149.77 375.50,144.70 C377.08,139.63 380.25,131.38 382.00,127.60 C383.75,123.82 384.33,123.60 386.00,122.00 C387.67,120.40 389.33,119.38 392.00,118.00 C394.67,116.62 399.00,115.53 402.00,113.70 C405.00,111.87 407.00,109.45 410.00,107.00 C413.00,104.55 415.17,101.08 420.00,99.00 C424.83,96.92 433.83,96.13 439.00,94.54 C444.17,92.95 447.91,91.71 451.00,89.46 C454.09,87.22 456.04,84.89 457.57,81.08 C459.10,77.26 458.96,72.75 460.19,66.58 C461.42,60.40 463.56,48.75 464.96,44.02 C466.36,39.28 467.05,38.64 468.60,38.17 C470.15,37.70 472.07,39.23 474.28,41.20 C476.49,43.16 479.16,47.50 481.84,49.97 C484.53,52.44 487.23,54.57 490.41,56.03 C493.59,57.49 496.87,58.76 500.90,58.73 C504.92,58.71 510.84,57.16 514.56,55.89 C518.27,54.61 520.26,52.23 523.19,51.08 C526.12,49.92 530.60,47.79 532.16,48.94 C533.73,50.09 532.91,55.47 532.57,57.97 C532.23,60.48 533.04,62.07 530.11,63.97 C527.19,65.86 521.19,67.24 515.00,69.35 C508.81,71.46 498.50,74.80 493.00,76.61 C487.50,78.43 485.33,79.44 482.00,80.27 C478.67,81.09 475.28,80.20 473.00,81.57 C470.72,82.95 469.64,85.18 468.31,88.50 C466.97,91.81 466.06,96.38 465.00,101.46 C463.94,106.54 463.10,113.20 461.95,118.99 C460.81,124.78 459.82,134.60 458.12,136.21 C456.43,137.82 454.62,131.86 451.77,128.64 C448.92,125.42 443.36,119.08 441.00,116.91 C438.64,114.75 439.05,115.50 437.63,115.65 C436.21,115.79 434.59,118.30 432.50,117.80 C430.41,117.30 427.49,113.07 425.08,112.65 C422.66,112.22 420.10,113.28 418.00,115.26 C415.90,117.24 414.67,121.38 412.50,124.54 C410.33,127.69 407.08,131.61 405.00,134.19 C402.92,136.78 401.20,138.61 400.00,140.04 C398.80,141.46 398.55,142.06 397.80,142.75 C397.05,143.44 396.30,144.81 395.50,144.19 C394.70,143.56 394.08,141.66 393.00,139.00 C391.92,136.34 390.67,131.10 389.00,128.22 C387.33,125.33 385.33,123.48 383.00,121.67 C380.67,119.87 377.50,118.22 375.00,117.38 C372.50,116.53 369.17,116.72 368.00,116.58" fill="none" stroke="#F4D63E" stroke-width="1.5" stroke-linejoin="round"/>
<path d="M368.00,115.71 C368.67,114.72 370.00,111.01 372.00,109.79 C374.00,108.58 375.33,108.92 380.00,108.40 C384.67,107.89 393.33,108.32 400.00,106.71 C406.67,105.09 413.50,100.69 420.00,98.71 C426.50,96.72 433.83,96.30 439.00,94.80 C444.17,93.30 447.89,91.97 451.00,89.71 C454.11,87.44 456.10,85.05 457.64,81.22 C459.18,77.39 459.04,72.62 460.24,66.72 C461.44,60.83 463.47,50.26 464.82,45.84 C466.17,41.42 466.82,40.66 468.37,40.20 C469.91,39.73 471.90,41.19 474.09,43.07 C476.29,44.95 478.82,49.10 481.55,51.48 C484.29,53.87 487.13,55.95 490.51,57.39 C493.89,58.83 497.65,60.06 501.83,60.15 C506.01,60.24 511.93,58.99 515.61,57.95 C519.30,56.90 521.18,54.86 523.93,53.87 C526.68,52.89 530.70,51.07 532.13,52.06 C533.56,53.05 532.87,57.67 532.52,59.82 C532.17,61.98 532.94,63.31 530.02,64.97 C527.10,66.64 521.17,67.89 515.00,69.82 C508.83,71.74 498.50,74.85 493.00,76.52 C487.50,78.19 485.33,79.07 482.00,79.83 C478.67,80.59 475.29,79.75 473.00,81.09 C470.71,82.43 469.59,84.53 468.26,87.86 C466.93,91.19 466.04,96.09 465.00,101.07 C463.96,106.05 463.10,112.32 461.99,117.72 C460.89,123.13 460.03,132.04 458.36,133.48 C456.69,134.93 454.86,129.39 451.97,126.40 C449.07,123.40 443.38,117.45 441.00,115.50 C438.62,113.55 439.11,114.51 437.69,114.67 C436.27,114.84 434.58,116.98 432.50,116.48 C430.42,115.98 427.64,112.06 425.22,111.67 C422.81,111.29 420.12,112.33 418.00,114.19 C415.88,116.05 414.67,119.85 412.50,122.82 C410.33,125.80 407.08,129.65 405.00,132.03 C402.92,134.41 401.20,135.91 400.00,137.10 C398.80,138.28 398.55,138.70 397.80,139.13 C397.05,139.56 396.30,140.40 395.50,139.69 C394.70,138.97 394.08,137.50 393.00,134.82 C391.92,132.14 390.67,126.39 389.00,123.59 C387.33,120.79 385.33,119.44 383.00,118.00 C380.67,116.56 377.50,115.39 375.00,114.95 C372.50,114.51 369.17,115.30 368.00,115.38" fill="none" stroke="#3D5F2C" stroke-width="1.5" stroke-linejoin="round"/>
<path d="M368.00,114.37 C368.67,113.56 370.00,110.51 372.00,109.51 C374.00,108.52 375.33,108.80 380.00,108.38 C384.67,107.96 393.33,108.55 400.00,106.99 C406.67,105.42 413.50,100.97 420.00,98.99 C426.50,97.01 433.83,96.60 439.00,95.10 C444.17,93.60 447.88,92.27 451.00,89.99 C454.12,87.70 456.17,85.24 457.72,81.39 C459.27,77.54 459.14,72.46 460.30,66.89 C461.45,61.32 463.36,52.03 464.66,47.97 C465.96,43.92 466.56,43.01 468.09,42.56 C469.63,42.10 471.69,43.48 473.87,45.25 C476.06,47.03 478.43,50.94 481.22,53.21 C484.01,55.49 487.02,57.50 490.62,58.92 C494.23,60.34 498.50,61.51 502.86,61.72 C507.22,61.93 513.12,60.99 516.76,60.19 C520.41,59.39 522.18,57.71 524.73,56.92 C527.29,56.13 530.81,54.63 532.10,55.45 C533.39,56.27 532.83,60.06 532.46,61.84 C532.10,63.61 532.82,64.70 529.91,66.12 C527.00,67.54 521.15,68.64 515.00,70.35 C508.85,72.07 498.50,74.91 493.00,76.41 C487.50,77.90 485.33,78.64 482.00,79.33 C478.67,80.01 475.30,79.23 473.00,80.53 C470.70,81.83 469.54,83.79 468.20,87.14 C466.87,90.49 466.03,95.77 465.00,100.62 C463.97,105.48 463.10,111.32 462.04,116.27 C460.98,121.23 460.27,129.10 458.63,130.36 C456.99,131.62 455.13,126.57 452.19,123.83 C449.25,121.08 443.41,115.59 441.00,113.88 C438.59,112.17 439.17,113.37 437.76,113.56 C436.34,113.74 434.56,115.48 432.50,114.98 C430.44,114.48 427.81,110.89 425.39,110.56 C422.97,110.22 420.15,111.24 418.00,112.96 C415.85,114.68 414.67,118.12 412.50,120.90 C410.33,123.67 407.08,127.44 405.00,129.59 C402.92,131.74 401.20,132.88 400.00,133.78 C398.80,134.69 398.55,134.90 397.80,135.04 C397.05,135.18 396.30,135.44 395.50,134.62 C394.70,133.79 394.08,132.66 393.00,130.11 C391.92,127.56 390.67,121.88 389.00,119.32 C387.33,116.76 385.33,115.85 383.00,114.77 C380.67,113.68 377.50,112.94 375.00,112.82 C372.50,112.69 369.17,113.81 368.00,114.01" fill="none" stroke="#A6CE48" stroke-width="1.5" stroke-linejoin="round"/>
<path d="M368.00,112.71 C368.67,112.12 370.00,109.90 372.00,109.17 C374.00,108.44 375.33,108.66 380.00,108.35 C384.67,108.05 393.33,108.83 400.00,107.33 C406.67,105.83 413.50,101.31 420.00,99.33 C426.50,97.36 433.83,96.98 439.00,95.48 C444.17,93.98 447.86,92.64 451.00,90.33 C454.14,88.02 456.25,85.47 457.81,81.60 C459.37,77.73 459.26,72.25 460.37,67.10 C461.47,61.94 463.22,54.27 464.45,50.68 C465.68,47.08 466.22,45.99 467.75,45.55 C469.27,45.11 471.42,46.39 473.60,48.03 C475.77,49.66 477.94,53.23 480.80,55.35 C483.66,57.48 486.88,59.40 490.76,60.76 C494.64,62.13 499.51,63.23 504.07,63.56 C508.62,63.89 514.48,63.27 518.08,62.75 C521.67,62.22 523.32,60.97 525.65,60.40 C527.98,59.83 530.93,58.70 532.06,59.32 C533.18,59.94 532.78,62.76 532.40,64.13 C532.01,65.50 532.67,66.40 529.77,67.54 C526.87,68.69 521.13,69.56 515.00,71.02 C508.87,72.47 498.50,74.99 493.00,76.27 C487.50,77.55 485.33,78.11 482.00,78.70 C478.67,79.30 475.31,78.58 473.00,79.84 C470.69,81.09 469.47,82.87 468.13,86.24 C466.80,89.61 466.01,95.36 465.00,100.07 C463.99,104.78 463.10,110.07 462.09,114.48 C461.09,118.88 460.56,125.46 458.96,126.49 C457.35,127.52 455.46,123.09 452.46,120.65 C449.47,118.22 443.44,113.29 441.00,111.88 C438.56,110.47 439.26,111.97 437.84,112.18 C436.42,112.38 434.54,113.61 432.50,113.11 C430.46,112.61 428.02,109.45 425.60,109.18 C423.18,108.90 420.18,109.88 418.00,111.44 C415.82,113.01 414.67,116.04 412.50,118.58 C410.33,121.11 407.08,124.78 405.00,126.65 C402.92,128.53 401.20,129.22 400.00,129.80 C398.80,130.38 398.55,130.34 397.80,130.13 C397.05,129.92 396.30,129.46 395.50,128.52 C394.70,127.57 394.08,126.60 393.00,124.45 C391.92,122.30 390.67,117.65 389.00,115.62 C387.33,113.59 385.33,113.00 383.00,112.26 C380.67,111.52 377.50,111.14 375.00,111.16 C372.50,111.18 369.17,112.17 368.00,112.38" fill="none" stroke="#6B3FA0" stroke-width="1.5" stroke-linejoin="round"/>
<path d="M368.00,109.50 C368.67,109.33 370.00,108.70 372.00,108.50 C374.00,108.30 375.33,108.38 380.00,108.30 C384.67,108.22 393.33,109.38 400.00,108.00 C406.67,106.62 413.50,101.97 420.00,100.00 C426.50,98.03 433.83,97.70 439.00,96.20 C444.17,94.70 447.83,93.37 451.00,91.00 C454.17,88.63 456.42,85.92 458.00,82.00 C459.58,78.08 459.50,71.75 460.50,67.50 C461.50,63.25 462.92,59.08 464.00,56.50 C465.08,53.92 465.50,52.42 467.00,52.00 C468.50,51.58 470.83,52.75 473.00,54.00 C475.17,55.25 477.00,57.83 480.00,59.50 C483.00,61.17 486.67,62.83 491.00,64.00 C495.33,65.17 501.17,66.08 506.00,66.50 C510.83,66.92 516.50,66.67 520.00,66.50 C523.50,66.33 525.00,65.75 527.00,65.50 C529.00,65.25 531.12,64.67 532.00,65.00 C532.88,65.33 532.72,66.62 532.30,67.50 C531.88,68.38 532.38,69.50 529.50,70.30 C526.62,71.10 521.08,71.35 515.00,72.30 C508.92,73.25 498.50,75.13 493.00,76.00 C487.50,76.87 485.33,77.08 482.00,77.50 C478.67,77.92 475.33,77.33 473.00,78.50 C470.67,79.67 469.33,81.08 468.00,84.50 C466.67,87.92 465.97,94.58 465.00,99.00 C464.03,103.42 463.10,107.67 462.20,111.00 C461.30,114.33 461.13,118.42 459.60,119.00 C458.07,119.58 456.10,116.33 453.00,114.50 C449.90,112.67 443.50,108.83 441.00,108.00 C438.50,107.17 439.42,109.25 438.00,109.50 C436.58,109.75 434.50,110.00 432.50,109.50 C430.50,109.00 428.42,106.67 426.00,106.50 C423.58,106.33 420.25,107.17 418.00,108.50 C415.75,109.83 414.67,112.33 412.50,114.50 C410.33,116.67 407.08,120.12 405.00,121.50 C402.92,122.88 401.20,122.80 400.00,122.80 C398.80,122.80 398.55,122.33 397.80,121.50 C397.05,120.67 396.30,118.97 395.50,117.80 C394.70,116.63 394.08,115.47 393.00,114.50 C391.92,113.53 390.67,112.67 389.00,112.00 C387.33,111.33 385.33,110.83 383.00,110.50 C380.67,110.17 377.50,110.17 375.00,110.00 C372.50,109.83 369.17,109.58 368.00,109.50" fill="none" stroke="#F2A33A" stroke-width="1.5" stroke-linejoin="round"/>
<text x="428.9" y="23.7" class="lb">100 (mV/s)</text>
<text x="440.2" y="87.6" text-anchor="middle" class="lb" style="font-size:17px">10</text>
<path d="M440.2,36.4 V30.5" stroke="#111" stroke-width="1.7"/><path d="M437.4,32 L440.2,26.8 L443,32 Z" fill="#111"/>
<path d="M440.2,42 V54.7" stroke="#111" stroke-width="1.7"/><path d="M439.35,59.9 H441.05 L440.55,73 H439.85 Z" fill="#111"/>
<text x="506.2" y="178.6" text-anchor="middle" class="lb2">MIP</text>
</svg>
</body></html>
